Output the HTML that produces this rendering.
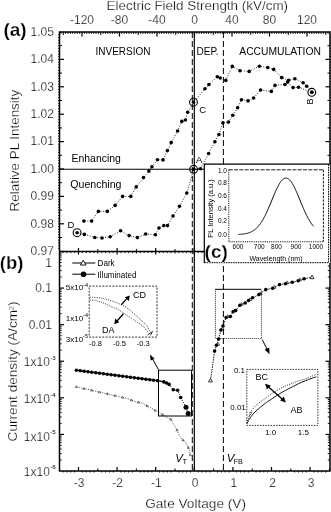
<!DOCTYPE html>
<html><head><meta charset="utf-8"><style>
html,body{margin:0;padding:0;background:#fff;width:331px;height:512px;overflow:hidden}
svg{display:block}
text[font-size="12"],text[font-size="12.5"],text[font-size="13"],text[font-size="13.4"],text[font-size="13.6"],text[font-size="19"],text[font-size="18.5"]{stroke:#fff;stroke-width:0.25px}
</style></head><body>
<svg width="331" height="512" viewBox="0 0 331 512" font-family="'Liberation Sans', Arial, Helvetica, sans-serif">
<rect width="331" height="512" fill="#fff"/>
<g><line x1="60.91" y1="32.00" x2="60.91" y2="33.90" stroke="#000" stroke-width="0.9" />
<line x1="63.25" y1="32.00" x2="63.25" y2="35.00" stroke="#000" stroke-width="1.0" />
<line x1="65.59" y1="32.00" x2="65.59" y2="33.90" stroke="#000" stroke-width="0.9" />
<line x1="67.94" y1="32.00" x2="67.94" y2="33.90" stroke="#000" stroke-width="0.9" />
<line x1="70.28" y1="32.00" x2="70.28" y2="33.90" stroke="#000" stroke-width="0.9" />
<line x1="72.62" y1="32.00" x2="72.62" y2="33.90" stroke="#000" stroke-width="0.9" />
<line x1="74.97" y1="32.00" x2="74.97" y2="33.90" stroke="#000" stroke-width="0.9" />
<line x1="77.31" y1="32.00" x2="77.31" y2="33.90" stroke="#000" stroke-width="0.9" />
<line x1="79.66" y1="32.00" x2="79.66" y2="33.90" stroke="#000" stroke-width="0.9" />
<line x1="82.00" y1="32.00" x2="82.00" y2="36.50" stroke="#000" stroke-width="1.2" />
<line x1="84.34" y1="32.00" x2="84.34" y2="33.90" stroke="#000" stroke-width="0.9" />
<line x1="86.69" y1="32.00" x2="86.69" y2="33.90" stroke="#000" stroke-width="0.9" />
<line x1="89.03" y1="32.00" x2="89.03" y2="33.90" stroke="#000" stroke-width="0.9" />
<line x1="91.38" y1="32.00" x2="91.38" y2="33.90" stroke="#000" stroke-width="0.9" />
<line x1="93.72" y1="32.00" x2="93.72" y2="33.90" stroke="#000" stroke-width="0.9" />
<line x1="96.06" y1="32.00" x2="96.06" y2="33.90" stroke="#000" stroke-width="0.9" />
<line x1="98.41" y1="32.00" x2="98.41" y2="33.90" stroke="#000" stroke-width="0.9" />
<line x1="100.75" y1="32.00" x2="100.75" y2="35.00" stroke="#000" stroke-width="1.0" />
<line x1="103.09" y1="32.00" x2="103.09" y2="33.90" stroke="#000" stroke-width="0.9" />
<line x1="105.44" y1="32.00" x2="105.44" y2="33.90" stroke="#000" stroke-width="0.9" />
<line x1="107.78" y1="32.00" x2="107.78" y2="33.90" stroke="#000" stroke-width="0.9" />
<line x1="110.12" y1="32.00" x2="110.12" y2="33.90" stroke="#000" stroke-width="0.9" />
<line x1="112.47" y1="32.00" x2="112.47" y2="33.90" stroke="#000" stroke-width="0.9" />
<line x1="114.81" y1="32.00" x2="114.81" y2="33.90" stroke="#000" stroke-width="0.9" />
<line x1="117.16" y1="32.00" x2="117.16" y2="33.90" stroke="#000" stroke-width="0.9" />
<line x1="119.50" y1="32.00" x2="119.50" y2="36.50" stroke="#000" stroke-width="1.2" />
<line x1="121.84" y1="32.00" x2="121.84" y2="33.90" stroke="#000" stroke-width="0.9" />
<line x1="124.19" y1="32.00" x2="124.19" y2="33.90" stroke="#000" stroke-width="0.9" />
<line x1="126.53" y1="32.00" x2="126.53" y2="33.90" stroke="#000" stroke-width="0.9" />
<line x1="128.88" y1="32.00" x2="128.88" y2="33.90" stroke="#000" stroke-width="0.9" />
<line x1="131.22" y1="32.00" x2="131.22" y2="33.90" stroke="#000" stroke-width="0.9" />
<line x1="133.56" y1="32.00" x2="133.56" y2="33.90" stroke="#000" stroke-width="0.9" />
<line x1="135.91" y1="32.00" x2="135.91" y2="33.90" stroke="#000" stroke-width="0.9" />
<line x1="138.25" y1="32.00" x2="138.25" y2="35.00" stroke="#000" stroke-width="1.0" />
<line x1="140.59" y1="32.00" x2="140.59" y2="33.90" stroke="#000" stroke-width="0.9" />
<line x1="142.94" y1="32.00" x2="142.94" y2="33.90" stroke="#000" stroke-width="0.9" />
<line x1="145.28" y1="32.00" x2="145.28" y2="33.90" stroke="#000" stroke-width="0.9" />
<line x1="147.62" y1="32.00" x2="147.62" y2="33.90" stroke="#000" stroke-width="0.9" />
<line x1="149.97" y1="32.00" x2="149.97" y2="33.90" stroke="#000" stroke-width="0.9" />
<line x1="152.31" y1="32.00" x2="152.31" y2="33.90" stroke="#000" stroke-width="0.9" />
<line x1="154.66" y1="32.00" x2="154.66" y2="33.90" stroke="#000" stroke-width="0.9" />
<line x1="157.00" y1="32.00" x2="157.00" y2="36.50" stroke="#000" stroke-width="1.2" />
<line x1="159.34" y1="32.00" x2="159.34" y2="33.90" stroke="#000" stroke-width="0.9" />
<line x1="161.69" y1="32.00" x2="161.69" y2="33.90" stroke="#000" stroke-width="0.9" />
<line x1="164.03" y1="32.00" x2="164.03" y2="33.90" stroke="#000" stroke-width="0.9" />
<line x1="166.38" y1="32.00" x2="166.38" y2="33.90" stroke="#000" stroke-width="0.9" />
<line x1="168.72" y1="32.00" x2="168.72" y2="33.90" stroke="#000" stroke-width="0.9" />
<line x1="171.06" y1="32.00" x2="171.06" y2="33.90" stroke="#000" stroke-width="0.9" />
<line x1="173.41" y1="32.00" x2="173.41" y2="33.90" stroke="#000" stroke-width="0.9" />
<line x1="175.75" y1="32.00" x2="175.75" y2="35.00" stroke="#000" stroke-width="1.0" />
<line x1="178.09" y1="32.00" x2="178.09" y2="33.90" stroke="#000" stroke-width="0.9" />
<line x1="180.44" y1="32.00" x2="180.44" y2="33.90" stroke="#000" stroke-width="0.9" />
<line x1="182.78" y1="32.00" x2="182.78" y2="33.90" stroke="#000" stroke-width="0.9" />
<line x1="185.12" y1="32.00" x2="185.12" y2="33.90" stroke="#000" stroke-width="0.9" />
<line x1="187.47" y1="32.00" x2="187.47" y2="33.90" stroke="#000" stroke-width="0.9" />
<line x1="189.81" y1="32.00" x2="189.81" y2="33.90" stroke="#000" stroke-width="0.9" />
<line x1="192.16" y1="32.00" x2="192.16" y2="33.90" stroke="#000" stroke-width="0.9" />
<line x1="194.50" y1="32.00" x2="194.50" y2="36.50" stroke="#000" stroke-width="1.2" />
<line x1="196.84" y1="32.00" x2="196.84" y2="33.90" stroke="#000" stroke-width="0.9" />
<line x1="199.19" y1="32.00" x2="199.19" y2="33.90" stroke="#000" stroke-width="0.9" />
<line x1="201.53" y1="32.00" x2="201.53" y2="33.90" stroke="#000" stroke-width="0.9" />
<line x1="203.88" y1="32.00" x2="203.88" y2="33.90" stroke="#000" stroke-width="0.9" />
<line x1="206.22" y1="32.00" x2="206.22" y2="33.90" stroke="#000" stroke-width="0.9" />
<line x1="208.56" y1="32.00" x2="208.56" y2="33.90" stroke="#000" stroke-width="0.9" />
<line x1="210.91" y1="32.00" x2="210.91" y2="33.90" stroke="#000" stroke-width="0.9" />
<line x1="213.25" y1="32.00" x2="213.25" y2="35.00" stroke="#000" stroke-width="1.0" />
<line x1="215.59" y1="32.00" x2="215.59" y2="33.90" stroke="#000" stroke-width="0.9" />
<line x1="217.94" y1="32.00" x2="217.94" y2="33.90" stroke="#000" stroke-width="0.9" />
<line x1="220.28" y1="32.00" x2="220.28" y2="33.90" stroke="#000" stroke-width="0.9" />
<line x1="222.62" y1="32.00" x2="222.62" y2="33.90" stroke="#000" stroke-width="0.9" />
<line x1="224.97" y1="32.00" x2="224.97" y2="33.90" stroke="#000" stroke-width="0.9" />
<line x1="227.31" y1="32.00" x2="227.31" y2="33.90" stroke="#000" stroke-width="0.9" />
<line x1="229.66" y1="32.00" x2="229.66" y2="33.90" stroke="#000" stroke-width="0.9" />
<line x1="232.00" y1="32.00" x2="232.00" y2="36.50" stroke="#000" stroke-width="1.2" />
<line x1="234.34" y1="32.00" x2="234.34" y2="33.90" stroke="#000" stroke-width="0.9" />
<line x1="236.69" y1="32.00" x2="236.69" y2="33.90" stroke="#000" stroke-width="0.9" />
<line x1="239.03" y1="32.00" x2="239.03" y2="33.90" stroke="#000" stroke-width="0.9" />
<line x1="241.38" y1="32.00" x2="241.38" y2="33.90" stroke="#000" stroke-width="0.9" />
<line x1="243.72" y1="32.00" x2="243.72" y2="33.90" stroke="#000" stroke-width="0.9" />
<line x1="246.06" y1="32.00" x2="246.06" y2="33.90" stroke="#000" stroke-width="0.9" />
<line x1="248.41" y1="32.00" x2="248.41" y2="33.90" stroke="#000" stroke-width="0.9" />
<line x1="250.75" y1="32.00" x2="250.75" y2="35.00" stroke="#000" stroke-width="1.0" />
<line x1="253.09" y1="32.00" x2="253.09" y2="33.90" stroke="#000" stroke-width="0.9" />
<line x1="255.44" y1="32.00" x2="255.44" y2="33.90" stroke="#000" stroke-width="0.9" />
<line x1="257.78" y1="32.00" x2="257.78" y2="33.90" stroke="#000" stroke-width="0.9" />
<line x1="260.12" y1="32.00" x2="260.12" y2="33.90" stroke="#000" stroke-width="0.9" />
<line x1="262.47" y1="32.00" x2="262.47" y2="33.90" stroke="#000" stroke-width="0.9" />
<line x1="264.81" y1="32.00" x2="264.81" y2="33.90" stroke="#000" stroke-width="0.9" />
<line x1="267.16" y1="32.00" x2="267.16" y2="33.90" stroke="#000" stroke-width="0.9" />
<line x1="269.50" y1="32.00" x2="269.50" y2="36.50" stroke="#000" stroke-width="1.2" />
<line x1="271.84" y1="32.00" x2="271.84" y2="33.90" stroke="#000" stroke-width="0.9" />
<line x1="274.19" y1="32.00" x2="274.19" y2="33.90" stroke="#000" stroke-width="0.9" />
<line x1="276.53" y1="32.00" x2="276.53" y2="33.90" stroke="#000" stroke-width="0.9" />
<line x1="278.88" y1="32.00" x2="278.88" y2="33.90" stroke="#000" stroke-width="0.9" />
<line x1="281.22" y1="32.00" x2="281.22" y2="33.90" stroke="#000" stroke-width="0.9" />
<line x1="283.56" y1="32.00" x2="283.56" y2="33.90" stroke="#000" stroke-width="0.9" />
<line x1="285.91" y1="32.00" x2="285.91" y2="33.90" stroke="#000" stroke-width="0.9" />
<line x1="288.25" y1="32.00" x2="288.25" y2="35.00" stroke="#000" stroke-width="1.0" />
<line x1="290.59" y1="32.00" x2="290.59" y2="33.90" stroke="#000" stroke-width="0.9" />
<line x1="292.94" y1="32.00" x2="292.94" y2="33.90" stroke="#000" stroke-width="0.9" />
<line x1="295.28" y1="32.00" x2="295.28" y2="33.90" stroke="#000" stroke-width="0.9" />
<line x1="297.62" y1="32.00" x2="297.62" y2="33.90" stroke="#000" stroke-width="0.9" />
<line x1="299.97" y1="32.00" x2="299.97" y2="33.90" stroke="#000" stroke-width="0.9" />
<line x1="302.31" y1="32.00" x2="302.31" y2="33.90" stroke="#000" stroke-width="0.9" />
<line x1="304.66" y1="32.00" x2="304.66" y2="33.90" stroke="#000" stroke-width="0.9" />
<line x1="307.00" y1="32.00" x2="307.00" y2="36.50" stroke="#000" stroke-width="1.2" />
<line x1="309.34" y1="32.00" x2="309.34" y2="33.90" stroke="#000" stroke-width="0.9" />
<line x1="311.69" y1="32.00" x2="311.69" y2="33.90" stroke="#000" stroke-width="0.9" />
<line x1="314.03" y1="32.00" x2="314.03" y2="33.90" stroke="#000" stroke-width="0.9" />
<line x1="316.38" y1="32.00" x2="316.38" y2="33.90" stroke="#000" stroke-width="0.9" />
<line x1="318.72" y1="32.00" x2="318.72" y2="33.90" stroke="#000" stroke-width="0.9" />
<line x1="321.06" y1="32.00" x2="321.06" y2="33.90" stroke="#000" stroke-width="0.9" />
<line x1="323.41" y1="32.00" x2="323.41" y2="33.90" stroke="#000" stroke-width="0.9" />
<line x1="325.75" y1="32.00" x2="325.75" y2="35.00" stroke="#000" stroke-width="1.0" />
<line x1="328.09" y1="32.00" x2="328.09" y2="33.90" stroke="#000" stroke-width="0.9" />
<line x1="58.10" y1="248.46" x2="59.50" y2="248.46" stroke="#000" stroke-width="0.9" />
<line x1="330.00" y1="248.46" x2="331.40" y2="248.46" stroke="#000" stroke-width="0.9" />
<line x1="58.10" y1="245.72" x2="59.50" y2="245.72" stroke="#000" stroke-width="0.9" />
<line x1="330.00" y1="245.72" x2="331.40" y2="245.72" stroke="#000" stroke-width="0.9" />
<line x1="58.10" y1="242.98" x2="59.50" y2="242.98" stroke="#000" stroke-width="0.9" />
<line x1="330.00" y1="242.98" x2="331.40" y2="242.98" stroke="#000" stroke-width="0.9" />
<line x1="58.10" y1="240.24" x2="59.50" y2="240.24" stroke="#000" stroke-width="0.9" />
<line x1="330.00" y1="240.24" x2="331.40" y2="240.24" stroke="#000" stroke-width="0.9" />
<line x1="58.10" y1="237.50" x2="59.50" y2="237.50" stroke="#000" stroke-width="0.9" />
<line x1="330.00" y1="237.50" x2="331.40" y2="237.50" stroke="#000" stroke-width="0.9" />
<line x1="59.50" y1="237.50" x2="62.00" y2="237.50" stroke="#000" stroke-width="1.0" />
<line x1="330.00" y1="237.50" x2="327.50" y2="237.50" stroke="#000" stroke-width="1.0" />
<line x1="58.10" y1="234.76" x2="59.50" y2="234.76" stroke="#000" stroke-width="0.9" />
<line x1="330.00" y1="234.76" x2="331.40" y2="234.76" stroke="#000" stroke-width="0.9" />
<line x1="58.10" y1="232.02" x2="59.50" y2="232.02" stroke="#000" stroke-width="0.9" />
<line x1="330.00" y1="232.02" x2="331.40" y2="232.02" stroke="#000" stroke-width="0.9" />
<line x1="58.10" y1="229.28" x2="59.50" y2="229.28" stroke="#000" stroke-width="0.9" />
<line x1="330.00" y1="229.28" x2="331.40" y2="229.28" stroke="#000" stroke-width="0.9" />
<line x1="58.10" y1="226.54" x2="59.50" y2="226.54" stroke="#000" stroke-width="0.9" />
<line x1="330.00" y1="226.54" x2="331.40" y2="226.54" stroke="#000" stroke-width="0.9" />
<line x1="58.10" y1="223.80" x2="59.50" y2="223.80" stroke="#000" stroke-width="0.9" />
<line x1="330.00" y1="223.80" x2="331.40" y2="223.80" stroke="#000" stroke-width="0.9" />
<line x1="59.50" y1="223.80" x2="64.00" y2="223.80" stroke="#000" stroke-width="1.2" />
<line x1="330.00" y1="223.80" x2="325.50" y2="223.80" stroke="#000" stroke-width="1.2" />
<line x1="58.10" y1="221.06" x2="59.50" y2="221.06" stroke="#000" stroke-width="0.9" />
<line x1="330.00" y1="221.06" x2="331.40" y2="221.06" stroke="#000" stroke-width="0.9" />
<line x1="58.10" y1="218.32" x2="59.50" y2="218.32" stroke="#000" stroke-width="0.9" />
<line x1="330.00" y1="218.32" x2="331.40" y2="218.32" stroke="#000" stroke-width="0.9" />
<line x1="58.10" y1="215.58" x2="59.50" y2="215.58" stroke="#000" stroke-width="0.9" />
<line x1="330.00" y1="215.58" x2="331.40" y2="215.58" stroke="#000" stroke-width="0.9" />
<line x1="58.10" y1="212.84" x2="59.50" y2="212.84" stroke="#000" stroke-width="0.9" />
<line x1="330.00" y1="212.84" x2="331.40" y2="212.84" stroke="#000" stroke-width="0.9" />
<line x1="58.10" y1="210.10" x2="59.50" y2="210.10" stroke="#000" stroke-width="0.9" />
<line x1="330.00" y1="210.10" x2="331.40" y2="210.10" stroke="#000" stroke-width="0.9" />
<line x1="59.50" y1="210.10" x2="62.00" y2="210.10" stroke="#000" stroke-width="1.0" />
<line x1="330.00" y1="210.10" x2="327.50" y2="210.10" stroke="#000" stroke-width="1.0" />
<line x1="58.10" y1="207.36" x2="59.50" y2="207.36" stroke="#000" stroke-width="0.9" />
<line x1="330.00" y1="207.36" x2="331.40" y2="207.36" stroke="#000" stroke-width="0.9" />
<line x1="58.10" y1="204.62" x2="59.50" y2="204.62" stroke="#000" stroke-width="0.9" />
<line x1="330.00" y1="204.62" x2="331.40" y2="204.62" stroke="#000" stroke-width="0.9" />
<line x1="58.10" y1="201.88" x2="59.50" y2="201.88" stroke="#000" stroke-width="0.9" />
<line x1="330.00" y1="201.88" x2="331.40" y2="201.88" stroke="#000" stroke-width="0.9" />
<line x1="58.10" y1="199.14" x2="59.50" y2="199.14" stroke="#000" stroke-width="0.9" />
<line x1="330.00" y1="199.14" x2="331.40" y2="199.14" stroke="#000" stroke-width="0.9" />
<line x1="58.10" y1="196.40" x2="59.50" y2="196.40" stroke="#000" stroke-width="0.9" />
<line x1="330.00" y1="196.40" x2="331.40" y2="196.40" stroke="#000" stroke-width="0.9" />
<line x1="59.50" y1="196.40" x2="64.00" y2="196.40" stroke="#000" stroke-width="1.2" />
<line x1="330.00" y1="196.40" x2="325.50" y2="196.40" stroke="#000" stroke-width="1.2" />
<line x1="58.10" y1="193.66" x2="59.50" y2="193.66" stroke="#000" stroke-width="0.9" />
<line x1="330.00" y1="193.66" x2="331.40" y2="193.66" stroke="#000" stroke-width="0.9" />
<line x1="58.10" y1="190.92" x2="59.50" y2="190.92" stroke="#000" stroke-width="0.9" />
<line x1="330.00" y1="190.92" x2="331.40" y2="190.92" stroke="#000" stroke-width="0.9" />
<line x1="58.10" y1="188.18" x2="59.50" y2="188.18" stroke="#000" stroke-width="0.9" />
<line x1="330.00" y1="188.18" x2="331.40" y2="188.18" stroke="#000" stroke-width="0.9" />
<line x1="58.10" y1="185.44" x2="59.50" y2="185.44" stroke="#000" stroke-width="0.9" />
<line x1="330.00" y1="185.44" x2="331.40" y2="185.44" stroke="#000" stroke-width="0.9" />
<line x1="58.10" y1="182.70" x2="59.50" y2="182.70" stroke="#000" stroke-width="0.9" />
<line x1="330.00" y1="182.70" x2="331.40" y2="182.70" stroke="#000" stroke-width="0.9" />
<line x1="59.50" y1="182.70" x2="62.00" y2="182.70" stroke="#000" stroke-width="1.0" />
<line x1="330.00" y1="182.70" x2="327.50" y2="182.70" stroke="#000" stroke-width="1.0" />
<line x1="58.10" y1="179.96" x2="59.50" y2="179.96" stroke="#000" stroke-width="0.9" />
<line x1="330.00" y1="179.96" x2="331.40" y2="179.96" stroke="#000" stroke-width="0.9" />
<line x1="58.10" y1="177.22" x2="59.50" y2="177.22" stroke="#000" stroke-width="0.9" />
<line x1="330.00" y1="177.22" x2="331.40" y2="177.22" stroke="#000" stroke-width="0.9" />
<line x1="58.10" y1="174.48" x2="59.50" y2="174.48" stroke="#000" stroke-width="0.9" />
<line x1="330.00" y1="174.48" x2="331.40" y2="174.48" stroke="#000" stroke-width="0.9" />
<line x1="58.10" y1="171.74" x2="59.50" y2="171.74" stroke="#000" stroke-width="0.9" />
<line x1="330.00" y1="171.74" x2="331.40" y2="171.74" stroke="#000" stroke-width="0.9" />
<line x1="58.10" y1="169.00" x2="59.50" y2="169.00" stroke="#000" stroke-width="0.9" />
<line x1="330.00" y1="169.00" x2="331.40" y2="169.00" stroke="#000" stroke-width="0.9" />
<line x1="59.50" y1="169.00" x2="64.00" y2="169.00" stroke="#000" stroke-width="1.2" />
<line x1="330.00" y1="169.00" x2="325.50" y2="169.00" stroke="#000" stroke-width="1.2" />
<line x1="58.10" y1="166.26" x2="59.50" y2="166.26" stroke="#000" stroke-width="0.9" />
<line x1="330.00" y1="166.26" x2="331.40" y2="166.26" stroke="#000" stroke-width="0.9" />
<line x1="58.10" y1="163.52" x2="59.50" y2="163.52" stroke="#000" stroke-width="0.9" />
<line x1="330.00" y1="163.52" x2="331.40" y2="163.52" stroke="#000" stroke-width="0.9" />
<line x1="58.10" y1="160.78" x2="59.50" y2="160.78" stroke="#000" stroke-width="0.9" />
<line x1="330.00" y1="160.78" x2="331.40" y2="160.78" stroke="#000" stroke-width="0.9" />
<line x1="58.10" y1="158.04" x2="59.50" y2="158.04" stroke="#000" stroke-width="0.9" />
<line x1="330.00" y1="158.04" x2="331.40" y2="158.04" stroke="#000" stroke-width="0.9" />
<line x1="58.10" y1="155.30" x2="59.50" y2="155.30" stroke="#000" stroke-width="0.9" />
<line x1="330.00" y1="155.30" x2="331.40" y2="155.30" stroke="#000" stroke-width="0.9" />
<line x1="59.50" y1="155.30" x2="62.00" y2="155.30" stroke="#000" stroke-width="1.0" />
<line x1="330.00" y1="155.30" x2="327.50" y2="155.30" stroke="#000" stroke-width="1.0" />
<line x1="58.10" y1="152.56" x2="59.50" y2="152.56" stroke="#000" stroke-width="0.9" />
<line x1="330.00" y1="152.56" x2="331.40" y2="152.56" stroke="#000" stroke-width="0.9" />
<line x1="58.10" y1="149.82" x2="59.50" y2="149.82" stroke="#000" stroke-width="0.9" />
<line x1="330.00" y1="149.82" x2="331.40" y2="149.82" stroke="#000" stroke-width="0.9" />
<line x1="58.10" y1="147.08" x2="59.50" y2="147.08" stroke="#000" stroke-width="0.9" />
<line x1="330.00" y1="147.08" x2="331.40" y2="147.08" stroke="#000" stroke-width="0.9" />
<line x1="58.10" y1="144.34" x2="59.50" y2="144.34" stroke="#000" stroke-width="0.9" />
<line x1="330.00" y1="144.34" x2="331.40" y2="144.34" stroke="#000" stroke-width="0.9" />
<line x1="58.10" y1="141.60" x2="59.50" y2="141.60" stroke="#000" stroke-width="0.9" />
<line x1="330.00" y1="141.60" x2="331.40" y2="141.60" stroke="#000" stroke-width="0.9" />
<line x1="59.50" y1="141.60" x2="64.00" y2="141.60" stroke="#000" stroke-width="1.2" />
<line x1="330.00" y1="141.60" x2="325.50" y2="141.60" stroke="#000" stroke-width="1.2" />
<line x1="58.10" y1="138.86" x2="59.50" y2="138.86" stroke="#000" stroke-width="0.9" />
<line x1="330.00" y1="138.86" x2="331.40" y2="138.86" stroke="#000" stroke-width="0.9" />
<line x1="58.10" y1="136.12" x2="59.50" y2="136.12" stroke="#000" stroke-width="0.9" />
<line x1="330.00" y1="136.12" x2="331.40" y2="136.12" stroke="#000" stroke-width="0.9" />
<line x1="58.10" y1="133.38" x2="59.50" y2="133.38" stroke="#000" stroke-width="0.9" />
<line x1="330.00" y1="133.38" x2="331.40" y2="133.38" stroke="#000" stroke-width="0.9" />
<line x1="58.10" y1="130.64" x2="59.50" y2="130.64" stroke="#000" stroke-width="0.9" />
<line x1="330.00" y1="130.64" x2="331.40" y2="130.64" stroke="#000" stroke-width="0.9" />
<line x1="58.10" y1="127.90" x2="59.50" y2="127.90" stroke="#000" stroke-width="0.9" />
<line x1="330.00" y1="127.90" x2="331.40" y2="127.90" stroke="#000" stroke-width="0.9" />
<line x1="59.50" y1="127.90" x2="62.00" y2="127.90" stroke="#000" stroke-width="1.0" />
<line x1="330.00" y1="127.90" x2="327.50" y2="127.90" stroke="#000" stroke-width="1.0" />
<line x1="58.10" y1="125.16" x2="59.50" y2="125.16" stroke="#000" stroke-width="0.9" />
<line x1="330.00" y1="125.16" x2="331.40" y2="125.16" stroke="#000" stroke-width="0.9" />
<line x1="58.10" y1="122.42" x2="59.50" y2="122.42" stroke="#000" stroke-width="0.9" />
<line x1="330.00" y1="122.42" x2="331.40" y2="122.42" stroke="#000" stroke-width="0.9" />
<line x1="58.10" y1="119.68" x2="59.50" y2="119.68" stroke="#000" stroke-width="0.9" />
<line x1="330.00" y1="119.68" x2="331.40" y2="119.68" stroke="#000" stroke-width="0.9" />
<line x1="58.10" y1="116.94" x2="59.50" y2="116.94" stroke="#000" stroke-width="0.9" />
<line x1="330.00" y1="116.94" x2="331.40" y2="116.94" stroke="#000" stroke-width="0.9" />
<line x1="58.10" y1="114.20" x2="59.50" y2="114.20" stroke="#000" stroke-width="0.9" />
<line x1="330.00" y1="114.20" x2="331.40" y2="114.20" stroke="#000" stroke-width="0.9" />
<line x1="59.50" y1="114.20" x2="64.00" y2="114.20" stroke="#000" stroke-width="1.2" />
<line x1="330.00" y1="114.20" x2="325.50" y2="114.20" stroke="#000" stroke-width="1.2" />
<line x1="58.10" y1="111.46" x2="59.50" y2="111.46" stroke="#000" stroke-width="0.9" />
<line x1="330.00" y1="111.46" x2="331.40" y2="111.46" stroke="#000" stroke-width="0.9" />
<line x1="58.10" y1="108.72" x2="59.50" y2="108.72" stroke="#000" stroke-width="0.9" />
<line x1="330.00" y1="108.72" x2="331.40" y2="108.72" stroke="#000" stroke-width="0.9" />
<line x1="58.10" y1="105.98" x2="59.50" y2="105.98" stroke="#000" stroke-width="0.9" />
<line x1="330.00" y1="105.98" x2="331.40" y2="105.98" stroke="#000" stroke-width="0.9" />
<line x1="58.10" y1="103.24" x2="59.50" y2="103.24" stroke="#000" stroke-width="0.9" />
<line x1="330.00" y1="103.24" x2="331.40" y2="103.24" stroke="#000" stroke-width="0.9" />
<line x1="58.10" y1="100.50" x2="59.50" y2="100.50" stroke="#000" stroke-width="0.9" />
<line x1="330.00" y1="100.50" x2="331.40" y2="100.50" stroke="#000" stroke-width="0.9" />
<line x1="59.50" y1="100.50" x2="62.00" y2="100.50" stroke="#000" stroke-width="1.0" />
<line x1="330.00" y1="100.50" x2="327.50" y2="100.50" stroke="#000" stroke-width="1.0" />
<line x1="58.10" y1="97.76" x2="59.50" y2="97.76" stroke="#000" stroke-width="0.9" />
<line x1="330.00" y1="97.76" x2="331.40" y2="97.76" stroke="#000" stroke-width="0.9" />
<line x1="58.10" y1="95.02" x2="59.50" y2="95.02" stroke="#000" stroke-width="0.9" />
<line x1="330.00" y1="95.02" x2="331.40" y2="95.02" stroke="#000" stroke-width="0.9" />
<line x1="58.10" y1="92.28" x2="59.50" y2="92.28" stroke="#000" stroke-width="0.9" />
<line x1="330.00" y1="92.28" x2="331.40" y2="92.28" stroke="#000" stroke-width="0.9" />
<line x1="58.10" y1="89.54" x2="59.50" y2="89.54" stroke="#000" stroke-width="0.9" />
<line x1="330.00" y1="89.54" x2="331.40" y2="89.54" stroke="#000" stroke-width="0.9" />
<line x1="58.10" y1="86.80" x2="59.50" y2="86.80" stroke="#000" stroke-width="0.9" />
<line x1="330.00" y1="86.80" x2="331.40" y2="86.80" stroke="#000" stroke-width="0.9" />
<line x1="59.50" y1="86.80" x2="64.00" y2="86.80" stroke="#000" stroke-width="1.2" />
<line x1="330.00" y1="86.80" x2="325.50" y2="86.80" stroke="#000" stroke-width="1.2" />
<line x1="58.10" y1="84.06" x2="59.50" y2="84.06" stroke="#000" stroke-width="0.9" />
<line x1="330.00" y1="84.06" x2="331.40" y2="84.06" stroke="#000" stroke-width="0.9" />
<line x1="58.10" y1="81.32" x2="59.50" y2="81.32" stroke="#000" stroke-width="0.9" />
<line x1="330.00" y1="81.32" x2="331.40" y2="81.32" stroke="#000" stroke-width="0.9" />
<line x1="58.10" y1="78.58" x2="59.50" y2="78.58" stroke="#000" stroke-width="0.9" />
<line x1="330.00" y1="78.58" x2="331.40" y2="78.58" stroke="#000" stroke-width="0.9" />
<line x1="58.10" y1="75.84" x2="59.50" y2="75.84" stroke="#000" stroke-width="0.9" />
<line x1="330.00" y1="75.84" x2="331.40" y2="75.84" stroke="#000" stroke-width="0.9" />
<line x1="58.10" y1="73.10" x2="59.50" y2="73.10" stroke="#000" stroke-width="0.9" />
<line x1="330.00" y1="73.10" x2="331.40" y2="73.10" stroke="#000" stroke-width="0.9" />
<line x1="59.50" y1="73.10" x2="62.00" y2="73.10" stroke="#000" stroke-width="1.0" />
<line x1="330.00" y1="73.10" x2="327.50" y2="73.10" stroke="#000" stroke-width="1.0" />
<line x1="58.10" y1="70.36" x2="59.50" y2="70.36" stroke="#000" stroke-width="0.9" />
<line x1="330.00" y1="70.36" x2="331.40" y2="70.36" stroke="#000" stroke-width="0.9" />
<line x1="58.10" y1="67.62" x2="59.50" y2="67.62" stroke="#000" stroke-width="0.9" />
<line x1="330.00" y1="67.62" x2="331.40" y2="67.62" stroke="#000" stroke-width="0.9" />
<line x1="58.10" y1="64.88" x2="59.50" y2="64.88" stroke="#000" stroke-width="0.9" />
<line x1="330.00" y1="64.88" x2="331.40" y2="64.88" stroke="#000" stroke-width="0.9" />
<line x1="58.10" y1="62.14" x2="59.50" y2="62.14" stroke="#000" stroke-width="0.9" />
<line x1="330.00" y1="62.14" x2="331.40" y2="62.14" stroke="#000" stroke-width="0.9" />
<line x1="58.10" y1="59.40" x2="59.50" y2="59.40" stroke="#000" stroke-width="0.9" />
<line x1="330.00" y1="59.40" x2="331.40" y2="59.40" stroke="#000" stroke-width="0.9" />
<line x1="59.50" y1="59.40" x2="64.00" y2="59.40" stroke="#000" stroke-width="1.2" />
<line x1="330.00" y1="59.40" x2="325.50" y2="59.40" stroke="#000" stroke-width="1.2" />
<line x1="58.10" y1="56.66" x2="59.50" y2="56.66" stroke="#000" stroke-width="0.9" />
<line x1="330.00" y1="56.66" x2="331.40" y2="56.66" stroke="#000" stroke-width="0.9" />
<line x1="58.10" y1="53.92" x2="59.50" y2="53.92" stroke="#000" stroke-width="0.9" />
<line x1="330.00" y1="53.92" x2="331.40" y2="53.92" stroke="#000" stroke-width="0.9" />
<line x1="58.10" y1="51.18" x2="59.50" y2="51.18" stroke="#000" stroke-width="0.9" />
<line x1="330.00" y1="51.18" x2="331.40" y2="51.18" stroke="#000" stroke-width="0.9" />
<line x1="58.10" y1="48.44" x2="59.50" y2="48.44" stroke="#000" stroke-width="0.9" />
<line x1="330.00" y1="48.44" x2="331.40" y2="48.44" stroke="#000" stroke-width="0.9" />
<line x1="58.10" y1="45.70" x2="59.50" y2="45.70" stroke="#000" stroke-width="0.9" />
<line x1="330.00" y1="45.70" x2="331.40" y2="45.70" stroke="#000" stroke-width="0.9" />
<line x1="59.50" y1="45.70" x2="62.00" y2="45.70" stroke="#000" stroke-width="1.0" />
<line x1="330.00" y1="45.70" x2="327.50" y2="45.70" stroke="#000" stroke-width="1.0" />
<line x1="58.10" y1="42.96" x2="59.50" y2="42.96" stroke="#000" stroke-width="0.9" />
<line x1="330.00" y1="42.96" x2="331.40" y2="42.96" stroke="#000" stroke-width="0.9" />
<line x1="58.10" y1="40.22" x2="59.50" y2="40.22" stroke="#000" stroke-width="0.9" />
<line x1="330.00" y1="40.22" x2="331.40" y2="40.22" stroke="#000" stroke-width="0.9" />
<line x1="58.10" y1="37.48" x2="59.50" y2="37.48" stroke="#000" stroke-width="0.9" />
<line x1="330.00" y1="37.48" x2="331.40" y2="37.48" stroke="#000" stroke-width="0.9" />
<line x1="58.10" y1="34.74" x2="59.50" y2="34.74" stroke="#000" stroke-width="0.9" />
<line x1="330.00" y1="34.74" x2="331.40" y2="34.74" stroke="#000" stroke-width="0.9" />
<line x1="63.06" y1="471.00" x2="63.06" y2="472.50" stroke="#000" stroke-width="0.9" />
<line x1="63.06" y1="251.50" x2="63.06" y2="253.10" stroke="#000" stroke-width="0.9" />
<line x1="66.92" y1="471.00" x2="66.92" y2="472.50" stroke="#000" stroke-width="0.9" />
<line x1="66.92" y1="251.50" x2="66.92" y2="253.10" stroke="#000" stroke-width="0.9" />
<line x1="70.78" y1="471.00" x2="70.78" y2="472.50" stroke="#000" stroke-width="0.9" />
<line x1="70.78" y1="251.50" x2="70.78" y2="253.10" stroke="#000" stroke-width="0.9" />
<line x1="74.64" y1="471.00" x2="74.64" y2="472.50" stroke="#000" stroke-width="0.9" />
<line x1="74.64" y1="251.50" x2="74.64" y2="253.10" stroke="#000" stroke-width="0.9" />
<line x1="78.50" y1="471.00" x2="78.50" y2="467.00" stroke="#000" stroke-width="1.2" />
<line x1="78.50" y1="248.00" x2="78.50" y2="254.50" stroke="#000" stroke-width="1.2" />
<line x1="82.36" y1="471.00" x2="82.36" y2="472.50" stroke="#000" stroke-width="0.9" />
<line x1="82.36" y1="251.50" x2="82.36" y2="253.10" stroke="#000" stroke-width="0.9" />
<line x1="86.22" y1="471.00" x2="86.22" y2="472.50" stroke="#000" stroke-width="0.9" />
<line x1="86.22" y1="251.50" x2="86.22" y2="253.10" stroke="#000" stroke-width="0.9" />
<line x1="90.08" y1="471.00" x2="90.08" y2="472.50" stroke="#000" stroke-width="0.9" />
<line x1="90.08" y1="251.50" x2="90.08" y2="253.10" stroke="#000" stroke-width="0.9" />
<line x1="93.94" y1="471.00" x2="93.94" y2="472.50" stroke="#000" stroke-width="0.9" />
<line x1="93.94" y1="251.50" x2="93.94" y2="253.10" stroke="#000" stroke-width="0.9" />
<line x1="97.80" y1="471.00" x2="97.80" y2="468.50" stroke="#000" stroke-width="1.0" />
<line x1="97.80" y1="249.00" x2="97.80" y2="253.50" stroke="#000" stroke-width="1.0" />
<line x1="101.66" y1="471.00" x2="101.66" y2="472.50" stroke="#000" stroke-width="0.9" />
<line x1="101.66" y1="251.50" x2="101.66" y2="253.10" stroke="#000" stroke-width="0.9" />
<line x1="105.52" y1="471.00" x2="105.52" y2="472.50" stroke="#000" stroke-width="0.9" />
<line x1="105.52" y1="251.50" x2="105.52" y2="253.10" stroke="#000" stroke-width="0.9" />
<line x1="109.38" y1="471.00" x2="109.38" y2="472.50" stroke="#000" stroke-width="0.9" />
<line x1="109.38" y1="251.50" x2="109.38" y2="253.10" stroke="#000" stroke-width="0.9" />
<line x1="113.24" y1="471.00" x2="113.24" y2="472.50" stroke="#000" stroke-width="0.9" />
<line x1="113.24" y1="251.50" x2="113.24" y2="253.10" stroke="#000" stroke-width="0.9" />
<line x1="117.10" y1="471.00" x2="117.10" y2="467.00" stroke="#000" stroke-width="1.2" />
<line x1="117.10" y1="248.00" x2="117.10" y2="254.50" stroke="#000" stroke-width="1.2" />
<line x1="120.96" y1="471.00" x2="120.96" y2="472.50" stroke="#000" stroke-width="0.9" />
<line x1="120.96" y1="251.50" x2="120.96" y2="253.10" stroke="#000" stroke-width="0.9" />
<line x1="124.82" y1="471.00" x2="124.82" y2="472.50" stroke="#000" stroke-width="0.9" />
<line x1="124.82" y1="251.50" x2="124.82" y2="253.10" stroke="#000" stroke-width="0.9" />
<line x1="128.68" y1="471.00" x2="128.68" y2="472.50" stroke="#000" stroke-width="0.9" />
<line x1="128.68" y1="251.50" x2="128.68" y2="253.10" stroke="#000" stroke-width="0.9" />
<line x1="132.54" y1="471.00" x2="132.54" y2="472.50" stroke="#000" stroke-width="0.9" />
<line x1="132.54" y1="251.50" x2="132.54" y2="253.10" stroke="#000" stroke-width="0.9" />
<line x1="136.40" y1="471.00" x2="136.40" y2="468.50" stroke="#000" stroke-width="1.0" />
<line x1="136.40" y1="249.00" x2="136.40" y2="253.50" stroke="#000" stroke-width="1.0" />
<line x1="140.26" y1="471.00" x2="140.26" y2="472.50" stroke="#000" stroke-width="0.9" />
<line x1="140.26" y1="251.50" x2="140.26" y2="253.10" stroke="#000" stroke-width="0.9" />
<line x1="144.12" y1="471.00" x2="144.12" y2="472.50" stroke="#000" stroke-width="0.9" />
<line x1="144.12" y1="251.50" x2="144.12" y2="253.10" stroke="#000" stroke-width="0.9" />
<line x1="147.98" y1="471.00" x2="147.98" y2="472.50" stroke="#000" stroke-width="0.9" />
<line x1="147.98" y1="251.50" x2="147.98" y2="253.10" stroke="#000" stroke-width="0.9" />
<line x1="151.84" y1="471.00" x2="151.84" y2="472.50" stroke="#000" stroke-width="0.9" />
<line x1="151.84" y1="251.50" x2="151.84" y2="253.10" stroke="#000" stroke-width="0.9" />
<line x1="155.70" y1="471.00" x2="155.70" y2="467.00" stroke="#000" stroke-width="1.2" />
<line x1="155.70" y1="248.00" x2="155.70" y2="254.50" stroke="#000" stroke-width="1.2" />
<line x1="159.56" y1="471.00" x2="159.56" y2="472.50" stroke="#000" stroke-width="0.9" />
<line x1="159.56" y1="251.50" x2="159.56" y2="253.10" stroke="#000" stroke-width="0.9" />
<line x1="163.42" y1="471.00" x2="163.42" y2="472.50" stroke="#000" stroke-width="0.9" />
<line x1="163.42" y1="251.50" x2="163.42" y2="253.10" stroke="#000" stroke-width="0.9" />
<line x1="167.28" y1="471.00" x2="167.28" y2="472.50" stroke="#000" stroke-width="0.9" />
<line x1="167.28" y1="251.50" x2="167.28" y2="253.10" stroke="#000" stroke-width="0.9" />
<line x1="171.14" y1="471.00" x2="171.14" y2="472.50" stroke="#000" stroke-width="0.9" />
<line x1="171.14" y1="251.50" x2="171.14" y2="253.10" stroke="#000" stroke-width="0.9" />
<line x1="175.00" y1="471.00" x2="175.00" y2="468.50" stroke="#000" stroke-width="1.0" />
<line x1="175.00" y1="249.00" x2="175.00" y2="253.50" stroke="#000" stroke-width="1.0" />
<line x1="178.86" y1="471.00" x2="178.86" y2="472.50" stroke="#000" stroke-width="0.9" />
<line x1="178.86" y1="251.50" x2="178.86" y2="253.10" stroke="#000" stroke-width="0.9" />
<line x1="182.72" y1="471.00" x2="182.72" y2="472.50" stroke="#000" stroke-width="0.9" />
<line x1="182.72" y1="251.50" x2="182.72" y2="253.10" stroke="#000" stroke-width="0.9" />
<line x1="186.58" y1="471.00" x2="186.58" y2="472.50" stroke="#000" stroke-width="0.9" />
<line x1="186.58" y1="251.50" x2="186.58" y2="253.10" stroke="#000" stroke-width="0.9" />
<line x1="190.44" y1="471.00" x2="190.44" y2="472.50" stroke="#000" stroke-width="0.9" />
<line x1="190.44" y1="251.50" x2="190.44" y2="253.10" stroke="#000" stroke-width="0.9" />
<line x1="194.30" y1="471.00" x2="194.30" y2="467.00" stroke="#000" stroke-width="1.2" />
<line x1="194.30" y1="248.00" x2="194.30" y2="254.50" stroke="#000" stroke-width="1.2" />
<line x1="198.16" y1="471.00" x2="198.16" y2="472.50" stroke="#000" stroke-width="0.9" />
<line x1="198.16" y1="251.50" x2="198.16" y2="253.10" stroke="#000" stroke-width="0.9" />
<line x1="202.02" y1="471.00" x2="202.02" y2="472.50" stroke="#000" stroke-width="0.9" />
<line x1="202.02" y1="251.50" x2="202.02" y2="253.10" stroke="#000" stroke-width="0.9" />
<line x1="205.88" y1="471.00" x2="205.88" y2="472.50" stroke="#000" stroke-width="0.9" />
<line x1="205.88" y1="251.50" x2="205.88" y2="253.10" stroke="#000" stroke-width="0.9" />
<line x1="209.74" y1="471.00" x2="209.74" y2="472.50" stroke="#000" stroke-width="0.9" />
<line x1="209.74" y1="251.50" x2="209.74" y2="253.10" stroke="#000" stroke-width="0.9" />
<line x1="213.60" y1="471.00" x2="213.60" y2="468.50" stroke="#000" stroke-width="1.0" />
<line x1="213.60" y1="249.00" x2="213.60" y2="253.50" stroke="#000" stroke-width="1.0" />
<line x1="217.46" y1="471.00" x2="217.46" y2="472.50" stroke="#000" stroke-width="0.9" />
<line x1="217.46" y1="251.50" x2="217.46" y2="253.10" stroke="#000" stroke-width="0.9" />
<line x1="221.32" y1="471.00" x2="221.32" y2="472.50" stroke="#000" stroke-width="0.9" />
<line x1="221.32" y1="251.50" x2="221.32" y2="253.10" stroke="#000" stroke-width="0.9" />
<line x1="225.18" y1="471.00" x2="225.18" y2="472.50" stroke="#000" stroke-width="0.9" />
<line x1="225.18" y1="251.50" x2="225.18" y2="253.10" stroke="#000" stroke-width="0.9" />
<line x1="229.04" y1="471.00" x2="229.04" y2="472.50" stroke="#000" stroke-width="0.9" />
<line x1="229.04" y1="251.50" x2="229.04" y2="253.10" stroke="#000" stroke-width="0.9" />
<line x1="232.90" y1="471.00" x2="232.90" y2="467.00" stroke="#000" stroke-width="1.2" />
<line x1="232.90" y1="248.00" x2="232.90" y2="254.50" stroke="#000" stroke-width="1.2" />
<line x1="236.76" y1="471.00" x2="236.76" y2="472.50" stroke="#000" stroke-width="0.9" />
<line x1="236.76" y1="251.50" x2="236.76" y2="253.10" stroke="#000" stroke-width="0.9" />
<line x1="240.62" y1="471.00" x2="240.62" y2="472.50" stroke="#000" stroke-width="0.9" />
<line x1="240.62" y1="251.50" x2="240.62" y2="253.10" stroke="#000" stroke-width="0.9" />
<line x1="244.48" y1="471.00" x2="244.48" y2="472.50" stroke="#000" stroke-width="0.9" />
<line x1="244.48" y1="251.50" x2="244.48" y2="253.10" stroke="#000" stroke-width="0.9" />
<line x1="248.34" y1="471.00" x2="248.34" y2="472.50" stroke="#000" stroke-width="0.9" />
<line x1="248.34" y1="251.50" x2="248.34" y2="253.10" stroke="#000" stroke-width="0.9" />
<line x1="252.20" y1="471.00" x2="252.20" y2="468.50" stroke="#000" stroke-width="1.0" />
<line x1="252.20" y1="249.00" x2="252.20" y2="253.50" stroke="#000" stroke-width="1.0" />
<line x1="256.06" y1="471.00" x2="256.06" y2="472.50" stroke="#000" stroke-width="0.9" />
<line x1="256.06" y1="251.50" x2="256.06" y2="253.10" stroke="#000" stroke-width="0.9" />
<line x1="259.92" y1="471.00" x2="259.92" y2="472.50" stroke="#000" stroke-width="0.9" />
<line x1="259.92" y1="251.50" x2="259.92" y2="253.10" stroke="#000" stroke-width="0.9" />
<line x1="263.78" y1="471.00" x2="263.78" y2="472.50" stroke="#000" stroke-width="0.9" />
<line x1="263.78" y1="251.50" x2="263.78" y2="253.10" stroke="#000" stroke-width="0.9" />
<line x1="267.64" y1="471.00" x2="267.64" y2="472.50" stroke="#000" stroke-width="0.9" />
<line x1="267.64" y1="251.50" x2="267.64" y2="253.10" stroke="#000" stroke-width="0.9" />
<line x1="271.50" y1="471.00" x2="271.50" y2="467.00" stroke="#000" stroke-width="1.2" />
<line x1="271.50" y1="248.00" x2="271.50" y2="254.50" stroke="#000" stroke-width="1.2" />
<line x1="275.36" y1="471.00" x2="275.36" y2="472.50" stroke="#000" stroke-width="0.9" />
<line x1="275.36" y1="251.50" x2="275.36" y2="253.10" stroke="#000" stroke-width="0.9" />
<line x1="279.22" y1="471.00" x2="279.22" y2="472.50" stroke="#000" stroke-width="0.9" />
<line x1="279.22" y1="251.50" x2="279.22" y2="253.10" stroke="#000" stroke-width="0.9" />
<line x1="283.08" y1="471.00" x2="283.08" y2="472.50" stroke="#000" stroke-width="0.9" />
<line x1="283.08" y1="251.50" x2="283.08" y2="253.10" stroke="#000" stroke-width="0.9" />
<line x1="286.94" y1="471.00" x2="286.94" y2="472.50" stroke="#000" stroke-width="0.9" />
<line x1="286.94" y1="251.50" x2="286.94" y2="253.10" stroke="#000" stroke-width="0.9" />
<line x1="290.80" y1="471.00" x2="290.80" y2="468.50" stroke="#000" stroke-width="1.0" />
<line x1="290.80" y1="249.00" x2="290.80" y2="253.50" stroke="#000" stroke-width="1.0" />
<line x1="294.66" y1="471.00" x2="294.66" y2="472.50" stroke="#000" stroke-width="0.9" />
<line x1="294.66" y1="251.50" x2="294.66" y2="253.10" stroke="#000" stroke-width="0.9" />
<line x1="298.52" y1="471.00" x2="298.52" y2="472.50" stroke="#000" stroke-width="0.9" />
<line x1="298.52" y1="251.50" x2="298.52" y2="253.10" stroke="#000" stroke-width="0.9" />
<line x1="302.38" y1="471.00" x2="302.38" y2="472.50" stroke="#000" stroke-width="0.9" />
<line x1="302.38" y1="251.50" x2="302.38" y2="253.10" stroke="#000" stroke-width="0.9" />
<line x1="306.24" y1="471.00" x2="306.24" y2="472.50" stroke="#000" stroke-width="0.9" />
<line x1="306.24" y1="251.50" x2="306.24" y2="253.10" stroke="#000" stroke-width="0.9" />
<line x1="310.10" y1="471.00" x2="310.10" y2="467.00" stroke="#000" stroke-width="1.2" />
<line x1="310.10" y1="248.00" x2="310.10" y2="254.50" stroke="#000" stroke-width="1.2" />
<line x1="313.96" y1="471.00" x2="313.96" y2="472.50" stroke="#000" stroke-width="0.9" />
<line x1="313.96" y1="251.50" x2="313.96" y2="253.10" stroke="#000" stroke-width="0.9" />
<line x1="317.82" y1="471.00" x2="317.82" y2="472.50" stroke="#000" stroke-width="0.9" />
<line x1="317.82" y1="251.50" x2="317.82" y2="253.10" stroke="#000" stroke-width="0.9" />
<line x1="321.68" y1="471.00" x2="321.68" y2="472.50" stroke="#000" stroke-width="0.9" />
<line x1="321.68" y1="251.50" x2="321.68" y2="253.10" stroke="#000" stroke-width="0.9" />
<line x1="325.54" y1="471.00" x2="325.54" y2="472.50" stroke="#000" stroke-width="0.9" />
<line x1="325.54" y1="251.50" x2="325.54" y2="253.10" stroke="#000" stroke-width="0.9" />
<line x1="329.40" y1="471.00" x2="329.40" y2="468.50" stroke="#000" stroke-width="1.0" />
<line x1="329.40" y1="249.00" x2="329.40" y2="253.50" stroke="#000" stroke-width="1.0" />
<line x1="59.50" y1="251.50" x2="64.00" y2="251.50" stroke="#000" stroke-width="1.2" />
<line x1="330.00" y1="251.50" x2="325.50" y2="251.50" stroke="#000" stroke-width="1.2" />
<line x1="59.50" y1="277.07" x2="61.70" y2="277.07" stroke="#000" stroke-width="0.9" />
<line x1="330.00" y1="277.07" x2="327.80" y2="277.07" stroke="#000" stroke-width="0.9" />
<line x1="59.50" y1="270.63" x2="61.70" y2="270.63" stroke="#000" stroke-width="0.9" />
<line x1="330.00" y1="270.63" x2="327.80" y2="270.63" stroke="#000" stroke-width="0.9" />
<line x1="59.50" y1="266.06" x2="61.70" y2="266.06" stroke="#000" stroke-width="0.9" />
<line x1="330.00" y1="266.06" x2="327.80" y2="266.06" stroke="#000" stroke-width="0.9" />
<line x1="59.50" y1="262.51" x2="61.70" y2="262.51" stroke="#000" stroke-width="0.9" />
<line x1="330.00" y1="262.51" x2="327.80" y2="262.51" stroke="#000" stroke-width="0.9" />
<line x1="59.50" y1="259.62" x2="61.70" y2="259.62" stroke="#000" stroke-width="0.9" />
<line x1="330.00" y1="259.62" x2="327.80" y2="259.62" stroke="#000" stroke-width="0.9" />
<line x1="59.50" y1="257.17" x2="61.70" y2="257.17" stroke="#000" stroke-width="0.9" />
<line x1="330.00" y1="257.17" x2="327.80" y2="257.17" stroke="#000" stroke-width="0.9" />
<line x1="59.50" y1="255.05" x2="61.70" y2="255.05" stroke="#000" stroke-width="0.9" />
<line x1="330.00" y1="255.05" x2="327.80" y2="255.05" stroke="#000" stroke-width="0.9" />
<line x1="59.50" y1="253.17" x2="61.70" y2="253.17" stroke="#000" stroke-width="0.9" />
<line x1="330.00" y1="253.17" x2="327.80" y2="253.17" stroke="#000" stroke-width="0.9" />
<line x1="59.50" y1="288.08" x2="64.00" y2="288.08" stroke="#000" stroke-width="1.2" />
<line x1="330.00" y1="288.08" x2="325.50" y2="288.08" stroke="#000" stroke-width="1.2" />
<line x1="59.50" y1="313.65" x2="61.70" y2="313.65" stroke="#000" stroke-width="0.9" />
<line x1="330.00" y1="313.65" x2="327.80" y2="313.65" stroke="#000" stroke-width="0.9" />
<line x1="59.50" y1="307.21" x2="61.70" y2="307.21" stroke="#000" stroke-width="0.9" />
<line x1="330.00" y1="307.21" x2="327.80" y2="307.21" stroke="#000" stroke-width="0.9" />
<line x1="59.50" y1="302.64" x2="61.70" y2="302.64" stroke="#000" stroke-width="0.9" />
<line x1="330.00" y1="302.64" x2="327.80" y2="302.64" stroke="#000" stroke-width="0.9" />
<line x1="59.50" y1="299.10" x2="61.70" y2="299.10" stroke="#000" stroke-width="0.9" />
<line x1="330.00" y1="299.10" x2="327.80" y2="299.10" stroke="#000" stroke-width="0.9" />
<line x1="59.50" y1="296.20" x2="61.70" y2="296.20" stroke="#000" stroke-width="0.9" />
<line x1="330.00" y1="296.20" x2="327.80" y2="296.20" stroke="#000" stroke-width="0.9" />
<line x1="59.50" y1="293.75" x2="61.70" y2="293.75" stroke="#000" stroke-width="0.9" />
<line x1="330.00" y1="293.75" x2="327.80" y2="293.75" stroke="#000" stroke-width="0.9" />
<line x1="59.50" y1="291.63" x2="61.70" y2="291.63" stroke="#000" stroke-width="0.9" />
<line x1="330.00" y1="291.63" x2="327.80" y2="291.63" stroke="#000" stroke-width="0.9" />
<line x1="59.50" y1="289.76" x2="61.70" y2="289.76" stroke="#000" stroke-width="0.9" />
<line x1="330.00" y1="289.76" x2="327.80" y2="289.76" stroke="#000" stroke-width="0.9" />
<line x1="59.50" y1="324.67" x2="64.00" y2="324.67" stroke="#000" stroke-width="1.2" />
<line x1="330.00" y1="324.67" x2="325.50" y2="324.67" stroke="#000" stroke-width="1.2" />
<line x1="59.50" y1="350.24" x2="61.70" y2="350.24" stroke="#000" stroke-width="0.9" />
<line x1="330.00" y1="350.24" x2="327.80" y2="350.24" stroke="#000" stroke-width="0.9" />
<line x1="59.50" y1="343.80" x2="61.70" y2="343.80" stroke="#000" stroke-width="0.9" />
<line x1="330.00" y1="343.80" x2="327.80" y2="343.80" stroke="#000" stroke-width="0.9" />
<line x1="59.50" y1="339.22" x2="61.70" y2="339.22" stroke="#000" stroke-width="0.9" />
<line x1="330.00" y1="339.22" x2="327.80" y2="339.22" stroke="#000" stroke-width="0.9" />
<line x1="59.50" y1="335.68" x2="61.70" y2="335.68" stroke="#000" stroke-width="0.9" />
<line x1="330.00" y1="335.68" x2="327.80" y2="335.68" stroke="#000" stroke-width="0.9" />
<line x1="59.50" y1="332.78" x2="61.70" y2="332.78" stroke="#000" stroke-width="0.9" />
<line x1="330.00" y1="332.78" x2="327.80" y2="332.78" stroke="#000" stroke-width="0.9" />
<line x1="59.50" y1="330.33" x2="61.70" y2="330.33" stroke="#000" stroke-width="0.9" />
<line x1="330.00" y1="330.33" x2="327.80" y2="330.33" stroke="#000" stroke-width="0.9" />
<line x1="59.50" y1="328.21" x2="61.70" y2="328.21" stroke="#000" stroke-width="0.9" />
<line x1="330.00" y1="328.21" x2="327.80" y2="328.21" stroke="#000" stroke-width="0.9" />
<line x1="59.50" y1="326.34" x2="61.70" y2="326.34" stroke="#000" stroke-width="0.9" />
<line x1="330.00" y1="326.34" x2="327.80" y2="326.34" stroke="#000" stroke-width="0.9" />
<line x1="59.50" y1="361.25" x2="64.00" y2="361.25" stroke="#000" stroke-width="1.2" />
<line x1="330.00" y1="361.25" x2="325.50" y2="361.25" stroke="#000" stroke-width="1.2" />
<line x1="59.50" y1="386.82" x2="61.70" y2="386.82" stroke="#000" stroke-width="0.9" />
<line x1="330.00" y1="386.82" x2="327.80" y2="386.82" stroke="#000" stroke-width="0.9" />
<line x1="59.50" y1="380.38" x2="61.70" y2="380.38" stroke="#000" stroke-width="0.9" />
<line x1="330.00" y1="380.38" x2="327.80" y2="380.38" stroke="#000" stroke-width="0.9" />
<line x1="59.50" y1="375.81" x2="61.70" y2="375.81" stroke="#000" stroke-width="0.9" />
<line x1="330.00" y1="375.81" x2="327.80" y2="375.81" stroke="#000" stroke-width="0.9" />
<line x1="59.50" y1="372.26" x2="61.70" y2="372.26" stroke="#000" stroke-width="0.9" />
<line x1="330.00" y1="372.26" x2="327.80" y2="372.26" stroke="#000" stroke-width="0.9" />
<line x1="59.50" y1="369.37" x2="61.70" y2="369.37" stroke="#000" stroke-width="0.9" />
<line x1="330.00" y1="369.37" x2="327.80" y2="369.37" stroke="#000" stroke-width="0.9" />
<line x1="59.50" y1="366.92" x2="61.70" y2="366.92" stroke="#000" stroke-width="0.9" />
<line x1="330.00" y1="366.92" x2="327.80" y2="366.92" stroke="#000" stroke-width="0.9" />
<line x1="59.50" y1="364.80" x2="61.70" y2="364.80" stroke="#000" stroke-width="0.9" />
<line x1="330.00" y1="364.80" x2="327.80" y2="364.80" stroke="#000" stroke-width="0.9" />
<line x1="59.50" y1="362.92" x2="61.70" y2="362.92" stroke="#000" stroke-width="0.9" />
<line x1="330.00" y1="362.92" x2="327.80" y2="362.92" stroke="#000" stroke-width="0.9" />
<line x1="59.50" y1="397.83" x2="64.00" y2="397.83" stroke="#000" stroke-width="1.2" />
<line x1="330.00" y1="397.83" x2="325.50" y2="397.83" stroke="#000" stroke-width="1.2" />
<line x1="59.50" y1="423.40" x2="61.70" y2="423.40" stroke="#000" stroke-width="0.9" />
<line x1="330.00" y1="423.40" x2="327.80" y2="423.40" stroke="#000" stroke-width="0.9" />
<line x1="59.50" y1="416.96" x2="61.70" y2="416.96" stroke="#000" stroke-width="0.9" />
<line x1="330.00" y1="416.96" x2="327.80" y2="416.96" stroke="#000" stroke-width="0.9" />
<line x1="59.50" y1="412.39" x2="61.70" y2="412.39" stroke="#000" stroke-width="0.9" />
<line x1="330.00" y1="412.39" x2="327.80" y2="412.39" stroke="#000" stroke-width="0.9" />
<line x1="59.50" y1="408.85" x2="61.70" y2="408.85" stroke="#000" stroke-width="0.9" />
<line x1="330.00" y1="408.85" x2="327.80" y2="408.85" stroke="#000" stroke-width="0.9" />
<line x1="59.50" y1="405.95" x2="61.70" y2="405.95" stroke="#000" stroke-width="0.9" />
<line x1="330.00" y1="405.95" x2="327.80" y2="405.95" stroke="#000" stroke-width="0.9" />
<line x1="59.50" y1="403.50" x2="61.70" y2="403.50" stroke="#000" stroke-width="0.9" />
<line x1="330.00" y1="403.50" x2="327.80" y2="403.50" stroke="#000" stroke-width="0.9" />
<line x1="59.50" y1="401.38" x2="61.70" y2="401.38" stroke="#000" stroke-width="0.9" />
<line x1="330.00" y1="401.38" x2="327.80" y2="401.38" stroke="#000" stroke-width="0.9" />
<line x1="59.50" y1="399.51" x2="61.70" y2="399.51" stroke="#000" stroke-width="0.9" />
<line x1="330.00" y1="399.51" x2="327.80" y2="399.51" stroke="#000" stroke-width="0.9" />
<line x1="59.50" y1="434.42" x2="64.00" y2="434.42" stroke="#000" stroke-width="1.2" />
<line x1="330.00" y1="434.42" x2="325.50" y2="434.42" stroke="#000" stroke-width="1.2" />
<line x1="59.50" y1="459.99" x2="61.70" y2="459.99" stroke="#000" stroke-width="0.9" />
<line x1="330.00" y1="459.99" x2="327.80" y2="459.99" stroke="#000" stroke-width="0.9" />
<line x1="59.50" y1="453.55" x2="61.70" y2="453.55" stroke="#000" stroke-width="0.9" />
<line x1="330.00" y1="453.55" x2="327.80" y2="453.55" stroke="#000" stroke-width="0.9" />
<line x1="59.50" y1="448.97" x2="61.70" y2="448.97" stroke="#000" stroke-width="0.9" />
<line x1="330.00" y1="448.97" x2="327.80" y2="448.97" stroke="#000" stroke-width="0.9" />
<line x1="59.50" y1="445.43" x2="61.70" y2="445.43" stroke="#000" stroke-width="0.9" />
<line x1="330.00" y1="445.43" x2="327.80" y2="445.43" stroke="#000" stroke-width="0.9" />
<line x1="59.50" y1="442.53" x2="61.70" y2="442.53" stroke="#000" stroke-width="0.9" />
<line x1="330.00" y1="442.53" x2="327.80" y2="442.53" stroke="#000" stroke-width="0.9" />
<line x1="59.50" y1="440.08" x2="61.70" y2="440.08" stroke="#000" stroke-width="0.9" />
<line x1="330.00" y1="440.08" x2="327.80" y2="440.08" stroke="#000" stroke-width="0.9" />
<line x1="59.50" y1="437.96" x2="61.70" y2="437.96" stroke="#000" stroke-width="0.9" />
<line x1="330.00" y1="437.96" x2="327.80" y2="437.96" stroke="#000" stroke-width="0.9" />
<line x1="59.50" y1="436.09" x2="61.70" y2="436.09" stroke="#000" stroke-width="0.9" />
<line x1="330.00" y1="436.09" x2="327.80" y2="436.09" stroke="#000" stroke-width="0.9" /></g>
<rect x="59.5" y="32.0" width="270.5" height="439.0" fill="none" stroke="#000" stroke-width="1.5"/>
<line x1="59.5" y1="251.5" x2="330.0" y2="251.5" stroke="#000" stroke-width="1.5"/>
<line x1="192.3" y1="32.0" x2="192.3" y2="471.0" stroke="#000" stroke-width="1" stroke-dasharray="6,3"/>
<line x1="194.3" y1="32.0" x2="194.3" y2="471.0" stroke="#000" stroke-width="1.2"/>
<line x1="223.4" y1="32.0" x2="223.4" y2="471.0" stroke="#000" stroke-width="1" stroke-dasharray="6,3"/>
<line x1="59.5" y1="169.3" x2="204" y2="169.3" stroke="#000" stroke-width="1.1"/>
<text x="106.6" y="9.8" font-size="12.5" textLength="181.5" lengthAdjust="spacingAndGlyphs">Electric Field Strength (kV/cm)</text>
<text x="82.0" y="23.6" font-size="12" text-anchor="middle" >-120</text>
<text x="119.5" y="23.6" font-size="12" text-anchor="middle" >-80</text>
<text x="157.0" y="23.6" font-size="12" text-anchor="middle" >-40</text>
<text x="194.5" y="23.6" font-size="12" text-anchor="middle" >0</text>
<text x="232.0" y="23.6" font-size="12" text-anchor="middle" >40</text>
<text x="269.5" y="23.6" font-size="12" text-anchor="middle" >80</text>
<text x="307.0" y="23.6" font-size="12" text-anchor="middle" >120</text>
<text x="3.4" y="35.9" font-size="19" text-anchor="start" font-weight="bold">(a)</text>
<text x="53.9" y="35.7" font-size="12" text-anchor="end" >1.05</text>
<text x="53.9" y="63.10000000000002" font-size="12" text-anchor="end" >1.04</text>
<text x="53.9" y="90.50000000000004" font-size="12" text-anchor="end" >1.03</text>
<text x="53.9" y="117.90000000000008" font-size="12" text-anchor="end" >1.02</text>
<text x="53.9" y="145.30000000000007" font-size="12" text-anchor="end" >1.01</text>
<text x="53.9" y="172.7000000000001" font-size="12" text-anchor="end" >1.00</text>
<text x="53.9" y="200.10000000000014" font-size="12" text-anchor="end" >0.99</text>
<text x="53.9" y="227.50000000000014" font-size="12" text-anchor="end" >0.98</text>
<text x="53.9" y="254.90000000000018" font-size="12" text-anchor="end" >0.97</text>
<text x="18.9" y="150.6" font-size="13.4" text-anchor="middle" transform="rotate(-90 18.9 150.6)">Relative PL Intensity</text>
<text x="95.5" y="54.8" font-size="10" text-anchor="start" >INVERSION</text>
<text x="196.5" y="54.8" font-size="10" text-anchor="start" >DEP.</text>
<text x="239.3" y="54.8" font-size="10" textLength="81.6" lengthAdjust="spacingAndGlyphs">ACCUMULATION</text>
<text x="71.6" y="162.3" font-size="10.8" textLength="49.2" lengthAdjust="spacingAndGlyphs">Enhancing</text>
<text x="70.3" y="187.7" font-size="10.8" textLength="51.2" lengthAdjust="spacingAndGlyphs">Quenching</text>
<text x="67.5" y="227.6" font-size="9.5" text-anchor="start" >D</text>
<text x="195.9" y="162.6" font-size="9.5" text-anchor="start" >A</text>
<text x="199.3" y="112.7" font-size="9.5" text-anchor="start" >C</text>
<text x="313" y="101.5" font-size="9" text-anchor="middle" transform="rotate(-90 313 101.5)">B</text>
<text x="-0.2" y="268.5" font-size="18.5" text-anchor="start" font-weight="bold">(b)</text>
<text x="52" y="266.5" font-size="12" text-anchor="end" >1</text>
<text x="52" y="292" font-size="12" text-anchor="end" >0.1</text>
<text x="52" y="328.5" font-size="12" text-anchor="end" >0.01</text>
<text x="49.9" y="366.4" font-size="12" text-anchor="end">1x10</text>
<text x="50.3" y="360.2" font-size="6.2">-3</text>
<text x="49.9" y="403.2" font-size="12" text-anchor="end">1x10</text>
<text x="50.3" y="397.0" font-size="6.2">-4</text>
<text x="49.9" y="440.5" font-size="12" text-anchor="end">1x10</text>
<text x="50.3" y="434.3" font-size="6.2">-5</text>
<text x="49.9" y="475.6" font-size="12" text-anchor="end">1x10</text>
<text x="50.3" y="469.40000000000003" font-size="6.2">-6</text>
<text x="17.3" y="371.5" font-size="13.6" text-anchor="middle" transform="rotate(-90 17.3 371.5)">Current density (A/cm<tspan font-size="7" dy="-3.6">2</tspan><tspan dy="3.6">)</tspan></text>
<text x="78.99999999999999" y="486.8" font-size="12" text-anchor="middle" >-3</text>
<text x="117.69999999999999" y="486.8" font-size="12" text-anchor="middle" >-2</text>
<text x="156.39999999999998" y="486.8" font-size="12" text-anchor="middle" >-1</text>
<text x="195.1" y="486.8" font-size="12" text-anchor="middle" >0</text>
<text x="233.8" y="486.8" font-size="12" text-anchor="middle" >1</text>
<text x="272.5" y="486.8" font-size="12" text-anchor="middle" >2</text>
<text x="311.2" y="486.8" font-size="12" text-anchor="middle" >3</text>
<text x="145.2" y="508.2" font-size="13" textLength="100.8" lengthAdjust="spacingAndGlyphs">Gate Voltage (V)</text>
<text x="175.3" y="462" font-size="11.5" font-style="italic">V<tspan font-size="7.5" dy="1.5" font-style="normal" dx="-0.5">T</tspan></text>
<text x="226.8" y="462" font-size="11.5" font-style="italic">V<tspan font-size="7.2" dy="1.8" font-style="normal" dx="-0.8">FB</tspan></text>
<path d="M77.1,232.7 L84.4,234.4 L94.8,237.5 L102,238 L110.2,236.8 L120.6,230.8 L129.1,235.6 L137.4,237.6 L145.7,234 L155.4,234.8 L159,228 L163.8,225.6 L167.5,225.6 L173,216 L179.5,206.3 L186.8,193 L193.6,169.3 L200.4,168.7 L208.6,153.5 L214.9,141.7 L218.9,134.5 L222.9,122.8 L228.5,122.1 L232.8,115.3 L237.6,107.7 L241.5,99.7 L248,100.9 L253.6,98 L260.6,90 L271.3,91.4 L275,85.4 L284.9,84.5 L287.7,82.1 L293.1,87.6 L298.5,87.2 L311.8,92.3" fill="none" stroke="#000" stroke-width="0.8" stroke-dasharray="1,1.6"/>
<circle cx="77.1" cy="232.7" r="1.8" fill="#000"/>
<circle cx="84.4" cy="234.4" r="1.8" fill="#000"/>
<circle cx="94.8" cy="237.5" r="1.8" fill="#000"/>
<circle cx="102" cy="238" r="1.8" fill="#000"/>
<circle cx="110.2" cy="236.8" r="1.8" fill="#000"/>
<circle cx="120.6" cy="230.8" r="1.8" fill="#000"/>
<circle cx="129.1" cy="235.6" r="1.8" fill="#000"/>
<circle cx="137.4" cy="237.6" r="1.8" fill="#000"/>
<circle cx="145.7" cy="234" r="1.8" fill="#000"/>
<circle cx="155.4" cy="234.8" r="1.8" fill="#000"/>
<circle cx="159" cy="228" r="1.8" fill="#000"/>
<circle cx="163.8" cy="225.6" r="1.8" fill="#000"/>
<circle cx="167.5" cy="225.6" r="1.8" fill="#000"/>
<circle cx="173" cy="216" r="1.8" fill="#000"/>
<circle cx="179.5" cy="206.3" r="1.8" fill="#000"/>
<circle cx="186.8" cy="193" r="1.8" fill="#000"/>
<circle cx="193.6" cy="169.3" r="1.8" fill="#000"/>
<circle cx="200.4" cy="168.7" r="1.8" fill="#000"/>
<circle cx="208.6" cy="153.5" r="1.8" fill="#000"/>
<circle cx="214.9" cy="141.7" r="1.8" fill="#000"/>
<circle cx="218.9" cy="134.5" r="1.8" fill="#000"/>
<circle cx="222.9" cy="122.8" r="1.8" fill="#000"/>
<circle cx="228.5" cy="122.1" r="1.8" fill="#000"/>
<circle cx="232.8" cy="115.3" r="1.8" fill="#000"/>
<circle cx="237.6" cy="107.7" r="1.8" fill="#000"/>
<circle cx="241.5" cy="99.7" r="1.8" fill="#000"/>
<circle cx="248" cy="100.9" r="1.8" fill="#000"/>
<circle cx="253.6" cy="98" r="1.8" fill="#000"/>
<circle cx="260.6" cy="90" r="1.8" fill="#000"/>
<circle cx="271.3" cy="91.4" r="1.8" fill="#000"/>
<circle cx="275" cy="85.4" r="1.8" fill="#000"/>
<circle cx="284.9" cy="84.5" r="1.8" fill="#000"/>
<circle cx="287.7" cy="82.1" r="1.8" fill="#000"/>
<circle cx="293.1" cy="87.6" r="1.8" fill="#000"/>
<circle cx="298.5" cy="87.2" r="1.8" fill="#000"/>
<circle cx="311.8" cy="92.3" r="1.8" fill="#000"/>
<path d="M311.8,92.3 L306.7,86.3 L303.1,82.7 L294.9,78.7 L288.6,80.3 L281.7,77.6 L273.7,69.4 L267.7,67.6 L259.4,66.2 L249.2,71.4 L240,70.7 L232.3,66.4 L225.8,80.4 L220.2,78 L217.3,76.8 L208.9,84.5 L205,88.8 L193.5,102.2 L187.7,112.3 L185.4,120 L181.8,121.4 L177.6,131 L171.2,142.6 L167.4,150.6 L163,159.9 L157.4,159.7 L151.9,166.7 L148.9,171.1 L143.5,177.6 L136.2,186.9 L130.8,196.4 L122.6,196.4 L115.1,205.4 L107.3,211.4 L98.4,211.4 L91.6,221.1 L83.9,221.1" fill="none" stroke="#000" stroke-width="0.8" stroke-dasharray="1,1.6"/>
<circle cx="311.8" cy="92.3" r="1.8" fill="#000"/>
<circle cx="306.7" cy="86.3" r="1.8" fill="#000"/>
<circle cx="303.1" cy="82.7" r="1.8" fill="#000"/>
<circle cx="294.9" cy="78.7" r="1.8" fill="#000"/>
<circle cx="288.6" cy="80.3" r="1.8" fill="#000"/>
<circle cx="281.7" cy="77.6" r="1.8" fill="#000"/>
<circle cx="273.7" cy="69.4" r="1.8" fill="#000"/>
<circle cx="267.7" cy="67.6" r="1.8" fill="#000"/>
<circle cx="259.4" cy="66.2" r="1.8" fill="#000"/>
<circle cx="249.2" cy="71.4" r="1.8" fill="#000"/>
<circle cx="240" cy="70.7" r="1.8" fill="#000"/>
<circle cx="232.3" cy="66.4" r="1.8" fill="#000"/>
<circle cx="225.8" cy="80.4" r="1.8" fill="#000"/>
<circle cx="220.2" cy="78" r="1.8" fill="#000"/>
<circle cx="217.3" cy="76.8" r="1.8" fill="#000"/>
<circle cx="208.9" cy="84.5" r="1.8" fill="#000"/>
<circle cx="205" cy="88.8" r="1.8" fill="#000"/>
<circle cx="193.5" cy="102.2" r="1.8" fill="#000"/>
<circle cx="187.7" cy="112.3" r="1.8" fill="#000"/>
<circle cx="185.4" cy="120" r="1.8" fill="#000"/>
<circle cx="181.8" cy="121.4" r="1.8" fill="#000"/>
<circle cx="177.6" cy="131" r="1.8" fill="#000"/>
<circle cx="171.2" cy="142.6" r="1.8" fill="#000"/>
<circle cx="167.4" cy="150.6" r="1.8" fill="#000"/>
<circle cx="163" cy="159.9" r="1.8" fill="#000"/>
<circle cx="157.4" cy="159.7" r="1.8" fill="#000"/>
<circle cx="151.9" cy="166.7" r="1.8" fill="#000"/>
<circle cx="148.9" cy="171.1" r="1.8" fill="#000"/>
<circle cx="143.5" cy="177.6" r="1.8" fill="#000"/>
<circle cx="136.2" cy="186.9" r="1.8" fill="#000"/>
<circle cx="130.8" cy="196.4" r="1.8" fill="#000"/>
<circle cx="122.6" cy="196.4" r="1.8" fill="#000"/>
<circle cx="115.1" cy="205.4" r="1.8" fill="#000"/>
<circle cx="107.3" cy="211.4" r="1.8" fill="#000"/>
<circle cx="98.4" cy="211.4" r="1.8" fill="#000"/>
<circle cx="91.6" cy="221.1" r="1.8" fill="#000"/>
<circle cx="83.9" cy="221.1" r="1.8" fill="#000"/>
<circle cx="77.1" cy="232.7" r="3.9" fill="none" stroke="#000" stroke-width="1.1"/>
<circle cx="193.6" cy="169.3" r="3.9" fill="none" stroke="#000" stroke-width="1.1"/>
<circle cx="193.5" cy="102.2" r="3.9" fill="none" stroke="#000" stroke-width="1.1"/>
<circle cx="311.8" cy="92.3" r="3.9" fill="none" stroke="#000" stroke-width="1.1"/>
<rect x="204.3" y="164.2" width="125.7" height="98.8" fill="#fff"/>
<path d="M204.3,263 V164.2 H330" fill="none" stroke="#000" stroke-width="1.2"/>
<path d="M204.3,262.7 H328.6 V164.2" fill="none" stroke="#000" stroke-width="1" stroke-dasharray="1.6,0.8"/>
<path d="M228.8,169.8 H323.4" fill="none" stroke="#000" stroke-width="0.9" stroke-dasharray="4,1.3"/>
<path d="M323.4,169.8 V241.8" fill="none" stroke="#000" stroke-width="0.9" stroke-dasharray="2.5,1.2"/>
<path d="M228.8,169.8 V241.8 H323.4" fill="none" stroke="#000" stroke-width="0.9" stroke-dasharray="1.2,1"/>
<text x="227" y="173.0" font-size="6.5" text-anchor="end" >1.0</text>
<text x="227" y="185.10000000000002" font-size="6.5" text-anchor="end" >0.8</text>
<text x="227" y="197.9" font-size="6.5" text-anchor="end" >0.6</text>
<text x="227" y="210.5" font-size="6.5" text-anchor="end" >0.4</text>
<text x="227" y="222.9" font-size="6.5" text-anchor="end" >0.2</text>
<text x="227" y="237.10000000000002" font-size="6.5" text-anchor="end" >0.0</text>
<text x="238" y="248.8" font-size="6.5" text-anchor="middle" >600</text>
<text x="259.3" y="248.8" font-size="6.5" text-anchor="middle" >700</text>
<text x="276.5" y="248.8" font-size="6.5" text-anchor="middle" >800</text>
<text x="296" y="248.8" font-size="6.5" text-anchor="middle" >900</text>
<text x="316" y="248.8" font-size="6.5" text-anchor="middle" >1000</text>
<text x="276" y="261" font-size="7" text-anchor="middle" >Wavelength (nm)</text>
<text x="213.4" y="208.5" font-size="7.5" text-anchor="middle" transform="rotate(-90 213.4 208.5)">PL Intensity (a.u.)</text>
<path d="M238.3,234.41 L238.7,234.39 L239.1,234.37 L239.5,234.35 L239.9,234.33 L240.3,234.30 L240.7,234.27 L241.1,234.24 L241.5,234.21 L241.9,234.17 L242.3,234.13 L242.7,234.09 L243.1,234.04 L243.5,233.99 L243.9,233.94 L244.3,233.88 L244.7,233.81 L245.1,233.75 L245.5,233.67 L245.9,233.60 L246.3,233.51 L246.7,233.42 L247.1,233.33 L247.5,233.22 L247.9,233.11 L248.3,232.99 L248.7,232.87 L249.1,232.73 L249.5,232.59 L249.9,232.44 L250.3,232.28 L250.7,232.11 L251.1,231.92 L251.5,231.73 L251.9,231.53 L252.3,231.31 L252.7,231.08 L253.1,230.84 L253.5,230.58 L253.9,230.31 L254.3,230.03 L254.7,229.73 L255.1,229.42 L255.5,229.09 L255.9,228.74 L256.3,228.38 L256.7,228.00 L257.1,227.60 L257.5,227.19 L257.9,226.76 L258.3,226.30 L258.7,225.83 L259.1,225.34 L259.5,224.83 L259.9,224.30 L260.3,223.75 L260.7,223.18 L261.1,222.59 L261.5,221.98 L261.9,221.35 L262.3,220.70 L262.7,220.03 L263.1,219.34 L263.5,218.63 L263.9,217.90 L264.3,217.15 L264.7,216.38 L265.1,215.59 L265.5,214.78 L265.9,213.96 L266.3,213.12 L266.7,212.26 L267.1,211.39 L267.5,210.51 L267.9,209.60 L268.3,208.69 L268.7,207.77 L269.1,206.83 L269.5,205.89 L269.9,204.93 L270.3,203.97 L270.7,203.01 L271.1,202.04 L271.5,201.06 L271.9,200.09 L272.3,199.11 L272.7,198.14 L273.1,197.17 L273.5,196.21 L273.9,195.25 L274.3,194.31 L274.7,193.37 L275.1,192.44 L275.5,191.53 L275.9,190.64 L276.3,189.76 L276.7,188.90 L277.1,188.06 L277.5,187.25 L277.9,186.46 L278.3,185.69 L278.7,184.96 L279.1,184.25 L279.5,183.58 L279.9,182.93 L280.3,182.32 L280.7,181.75 L281.1,181.21 L281.5,180.71 L281.9,180.26 L282.3,179.84 L282.7,179.46 L283.1,179.12 L283.5,178.83 L283.9,178.58 L284.3,178.37 L284.7,178.21 L285.1,178.10 L285.5,178.03 L285.9,178.00 L286.3,178.02 L286.7,178.09 L287.1,178.20 L287.5,178.36 L287.9,178.56 L288.3,178.80 L288.7,179.09 L289.1,179.42 L289.5,179.80 L289.9,180.21 L290.3,180.67 L290.7,181.16 L291.1,181.70 L291.5,182.27 L291.9,182.87 L292.3,183.51 L292.7,184.19 L293.1,184.89 L293.5,185.62 L293.9,186.39 L294.3,187.17 L294.7,187.99 L295.1,188.82 L295.5,189.68 L295.9,190.55 L296.3,191.45 L296.7,192.36 L297.1,193.28 L297.5,194.22 L297.9,195.16 L298.3,196.12 L298.7,197.08 L299.1,198.05 L299.5,199.02 L299.9,200.00 L300.3,200.97 L300.7,201.94 L301.1,202.91 L301.5,203.88 L301.9,204.84 L302.3,205.80 L302.7,206.74 L303.1,207.68 L303.5,208.60 L303.9,209.52 L304.3,210.42 L304.7,211.31 L305.1,212.18 L305.5,213.04 L305.9,213.88 L306.3,214.71 L306.7,215.51 L307.1,216.30 L307.5,217.08 L307.9,217.83 L308.3,218.56 L308.7,219.27 L309.1,219.97 L309.5,220.64 L309.9,221.29 L310.3,221.92 L310.7,222.54 L311.1,223.13 L311.5,223.70 L311.9,224.25 L312.3,224.78 L312.7,225.29 L313.1,225.79 L313.5,226.26" fill="none" stroke="#000" stroke-width="1"/>
<text x="204.6" y="257.6" font-size="19" text-anchor="start" font-weight="bold">(c)</text>
<line x1="72.3" y1="263" x2="95.3" y2="263" stroke="#000" stroke-width="1"/>
<path d="M83.2,260.2 L86,265 L80.4,265 Z" fill="#fff" stroke="#000" stroke-width="0.9"/>
<text x="97.6" y="266.2" font-size="8.8" textLength="17" lengthAdjust="spacingAndGlyphs">Dark</text>
<line x1="72.3" y1="274.2" x2="95.3" y2="274.2" stroke="#000" stroke-width="1"/>
<circle cx="83.5" cy="274.2" r="2.8" fill="#000"/>
<text x="97.6" y="277.6" font-size="8.8" textLength="38.8" lengthAdjust="spacingAndGlyphs">Illuminated</text>
<path d="M76.4,370.2 L80.3,370.7 L84.1,371.2 L88.0,371.7 L91.8,372.2 L95.7,372.7 L99.6,373.2 L103.4,373.7 L107.3,374.2 L111.1,374.7 L115.0,375.2 L118.9,375.7 L122.7,376.2 L126.6,376.7 L130.4,377.2 L134.3,377.7 L138.2,378.2 L142.0,378.7 L145.9,379.2 L149.7,379.7 L153.6,380.2 L157.5,380.7 L163.8,381.9 L166.5,383.0 L169.1,384.4" fill="none" stroke="#000" stroke-width="1.2"/>
<path d="M169.1,384.4 L173.3,389.7 L177.6,390.3 L180.7,397.5 L186.0,407.2 L188.2,413.6" fill="none" stroke="#000" stroke-width="0.9" stroke-dasharray="1,1.2"/>
<circle cx="76.4" cy="370.2" r="1.8" fill="#000"/>
<circle cx="80.3" cy="370.7" r="1.8" fill="#000"/>
<circle cx="84.1" cy="371.2" r="1.8" fill="#000"/>
<circle cx="88.0" cy="371.7" r="1.8" fill="#000"/>
<circle cx="91.8" cy="372.2" r="1.8" fill="#000"/>
<circle cx="95.7" cy="372.7" r="1.8" fill="#000"/>
<circle cx="99.6" cy="373.2" r="1.8" fill="#000"/>
<circle cx="103.4" cy="373.7" r="1.8" fill="#000"/>
<circle cx="107.3" cy="374.2" r="1.8" fill="#000"/>
<circle cx="111.1" cy="374.7" r="1.8" fill="#000"/>
<circle cx="115.0" cy="375.2" r="1.8" fill="#000"/>
<circle cx="118.9" cy="375.7" r="1.8" fill="#000"/>
<circle cx="122.7" cy="376.2" r="1.8" fill="#000"/>
<circle cx="126.6" cy="376.7" r="1.8" fill="#000"/>
<circle cx="130.4" cy="377.2" r="1.8" fill="#000"/>
<circle cx="134.3" cy="377.7" r="1.8" fill="#000"/>
<circle cx="138.2" cy="378.2" r="1.8" fill="#000"/>
<circle cx="142.0" cy="378.7" r="1.8" fill="#000"/>
<circle cx="145.9" cy="379.2" r="1.8" fill="#000"/>
<circle cx="149.7" cy="379.7" r="1.8" fill="#000"/>
<circle cx="153.6" cy="380.2" r="1.8" fill="#000"/>
<circle cx="157.5" cy="380.7" r="1.8" fill="#000"/>
<circle cx="163.8" cy="381.9" r="1.8" fill="#000"/>
<circle cx="166.5" cy="383.0" r="1.8" fill="#000"/>
<circle cx="169.1" cy="384.4" r="1.8" fill="#000"/>
<circle cx="173.3" cy="389.7" r="1.8" fill="#000"/>
<circle cx="177.6" cy="390.3" r="1.8" fill="#000"/>
<circle cx="180.7" cy="397.5" r="1.8" fill="#000"/>
<circle cx="186.0" cy="407.2" r="2.5" fill="#000"/>
<circle cx="188.2" cy="413.6" r="2.5" fill="#000"/>
<path d="M76.3,386.8 L80.2,387.7 L84.0,388.6 L87.9,389.4 L91.7,390.3 L95.6,391.2 L99.5,392.1 L103.3,393.0 L107.2,393.8 L111.0,394.7 L114.9,395.6 L118.8,396.5 L122.6,397.4 L126.5,398.3 L131.5,400.2 L134.2,401.3 L138.5,402.3 L142.7,403.4 L147.0,405.8 L151.4,408.3 L155.0,410.3 L158.8,412.5 L162.5,414.6 L166.5,417.0 L170.8,419.4 L174.3,425.0 L177.0,430.0 L179.9,436.8 L183.0,440.0 L186.1,443.0 L188.3,447.5 L189.6,451.4 L190.3,454.9" fill="none" stroke="#000" stroke-width="0.6" stroke-dasharray="1.2,1.2"/>
<path d="M76.3,385.7 L77.4,387.6 L75.2,387.6 Z" fill="none" stroke="#000" stroke-width="0.45"/>
<path d="M84.0,387.5 L85.1,389.4 L82.9,389.4 Z" fill="none" stroke="#000" stroke-width="0.45"/>
<path d="M91.7,389.2 L92.8,391.1 L90.6,391.1 Z" fill="none" stroke="#000" stroke-width="0.45"/>
<path d="M99.5,391.0 L100.6,392.9 L98.4,392.9 Z" fill="none" stroke="#000" stroke-width="0.45"/>
<path d="M107.2,392.7 L108.3,394.6 L106.1,394.6 Z" fill="none" stroke="#000" stroke-width="0.45"/>
<path d="M114.9,394.5 L116.0,396.4 L113.8,396.4 Z" fill="none" stroke="#000" stroke-width="0.45"/>
<path d="M122.6,396.3 L123.7,398.2 L121.5,398.2 Z" fill="none" stroke="#000" stroke-width="0.45"/>
<path d="M131.5,399.1 L132.6,401.0 L130.4,401.0 Z" fill="none" stroke="#000" stroke-width="0.45"/>
<path d="M138.5,401.2 L139.6,403.1 L137.4,403.1 Z" fill="none" stroke="#000" stroke-width="0.45"/>
<path d="M147.0,404.7 L148.1,406.6 L145.9,406.6 Z" fill="none" stroke="#000" stroke-width="0.45"/>
<path d="M155.0,409.2 L156.1,411.1 L153.9,411.1 Z" fill="none" stroke="#000" stroke-width="0.45"/>
<path d="M162.5,413.5 L163.6,415.4 L161.4,415.4 Z" fill="none" stroke="#000" stroke-width="0.45"/>
<path d="M170.8,418.3 L171.9,420.2 L169.7,420.2 Z" fill="none" stroke="#000" stroke-width="0.45"/>
<path d="M177.0,428.9 L178.1,430.8 L175.9,430.8 Z" fill="none" stroke="#000" stroke-width="0.45"/>
<path d="M183.0,438.9 L184.1,440.8 L181.9,440.8 Z" fill="none" stroke="#000" stroke-width="0.45"/>
<path d="M188.3,446.4 L189.4,448.3 L187.2,448.3 Z" fill="none" stroke="#000" stroke-width="0.45"/>
<path d="M190.3,453.8 L191.4,455.7 L189.2,455.7 Z" fill="none" stroke="#000" stroke-width="0.45"/>
<rect x="158.5" y="370.2" width="33" height="45.8" fill="none" stroke="#000" stroke-width="1"/>
<line x1="158.5" y1="369.6" x2="152" y2="358" stroke="#000" stroke-width="1"/>
<path d="M150,354.5 L154.6,358.8 L150.6,360.6 Z" fill="#000"/>
<rect x="89.2" y="286.1" width="67.8" height="51" fill="#fff" stroke="#000" stroke-width="0.8" stroke-dasharray="2,1.3"/>
<path d="M89.8,297.1 L100.1,297.8 L108.5,299.9 L116,302.5 L124.5,306.1 L130.5,310.5 L136.1,315.6 L141.5,320.5 L146.3,325.1 L151,332.6" fill="none" stroke="#000" stroke-width="0.8" stroke-dasharray="1,1.3" stroke-linejoin="round"/>
<path d="M89.8,299.9 L95.3,300.2 L101.3,302.3 L106.1,304.1 L112.2,307.1 L117,308.9 L122,312 L127.2,315.6 L131.5,318.5 L136,321.5 L140.5,324.3 L144.2,327.2 L149,333.3" fill="none" stroke="#000" stroke-width="0.8" stroke-dasharray="1,1.3" stroke-linejoin="round"/>
<path d="M147.6,335 L152.5,331.5 L150.5,335.3" fill="none" stroke="#000" stroke-width="0.8"/>
<line x1="121.3" y1="304.7" x2="127" y2="298.4" stroke="#000" stroke-width="1.3"/>
<path d="M129.8,295.4 L128.8,301 L124.8,297.3 Z" fill="#000"/>
<line x1="123.5" y1="313.7" x2="117" y2="321" stroke="#000" stroke-width="1.3"/>
<path d="M114.3,324.2 L115.2,318.5 L119.3,322.2 Z" fill="#000"/>
<text x="133" y="298.3" font-size="9" text-anchor="start" >CD</text>
<text x="102" y="333.2" font-size="9" text-anchor="start" >DA</text>
<text x="88" y="290" font-size="8" text-anchor="end">5x10<tspan font-size="5.5" dy="-3.5">-4</tspan></text>
<text x="88" y="320.5" font-size="8" text-anchor="end">1x10<tspan font-size="5.5" dy="-3.5">-4</tspan></text>
<text x="88" y="341.5" font-size="8" text-anchor="end">3x10<tspan font-size="5.5" dy="-3.5">-5</tspan></text>
<text x="95.5" y="345.7" font-size="7.5" text-anchor="middle" >-0.8</text>
<text x="119.5" y="345.7" font-size="7.5" text-anchor="middle" >-0.5</text>
<text x="143.2" y="345.7" font-size="7.5" text-anchor="middle" >-0.3</text>
<path d="M210.5,380.4 L214.6,351.1 L216.4,345.2 L218.6,339.0 L220.9,330.0 L223.0,326.0 L226.1,317.5 L230.4,316.5 L233.1,311.7 L235.7,310.5 L239.9,305.2 L245.2,303.0 L248.5,300.5 L252.6,297.8 L258.9,294.6 L265.8,289.6 L272.7,288.2 L279.6,284.6 L285.5,283.7 L292.3,282.3 L298.2,280.7 L304.1,278.8 L312.0,277.2" fill="none" stroke="#000" stroke-width="0.9" stroke-dasharray="1.5,1"/>
<circle cx="214.6" cy="351.1" r="1.8" fill="#000"/>
<circle cx="216.4" cy="345.2" r="1.8" fill="#000"/>
<path d="M218.0,342.4 L219.7,345.2 L216.3,345.2 Z" fill="none" stroke="#000" stroke-width="0.6"/>
<circle cx="218.6" cy="339.0" r="1.8" fill="#000"/>
<circle cx="220.9" cy="330.0" r="1.8" fill="#000"/>
<path d="M222.5,327.2 L224.2,330.0 L220.8,330.0 Z" fill="none" stroke="#000" stroke-width="0.6"/>
<circle cx="223.0" cy="326.0" r="1.8" fill="#000"/>
<circle cx="226.1" cy="317.5" r="1.8" fill="#000"/>
<path d="M227.7,314.7 L229.4,317.5 L226.0,317.5 Z" fill="none" stroke="#000" stroke-width="0.6"/>
<circle cx="230.4" cy="316.5" r="1.8" fill="#000"/>
<circle cx="233.1" cy="311.7" r="1.8" fill="#000"/>
<path d="M234.7,308.9 L236.4,311.7 L233.0,311.7 Z" fill="none" stroke="#000" stroke-width="0.6"/>
<circle cx="235.7" cy="310.5" r="1.8" fill="#000"/>
<circle cx="239.9" cy="305.2" r="1.8" fill="#000"/>
<path d="M241.5,302.4 L243.2,305.2 L239.8,305.2 Z" fill="none" stroke="#000" stroke-width="0.6"/>
<circle cx="245.2" cy="303.0" r="1.8" fill="#000"/>
<circle cx="248.5" cy="300.5" r="1.8" fill="#000"/>
<path d="M250.1,297.7 L251.8,300.5 L248.4,300.5 Z" fill="none" stroke="#000" stroke-width="0.6"/>
<circle cx="252.6" cy="297.8" r="1.8" fill="#000"/>
<circle cx="258.9" cy="294.6" r="1.8" fill="#000"/>
<path d="M260.5,291.8 L262.2,294.6 L258.8,294.6 Z" fill="none" stroke="#000" stroke-width="0.6"/>
<circle cx="265.8" cy="289.6" r="1.8" fill="#000"/>
<circle cx="272.7" cy="288.2" r="1.8" fill="#000"/>
<path d="M274.3,285.4 L276.0,288.2 L272.6,288.2 Z" fill="none" stroke="#000" stroke-width="0.6"/>
<circle cx="279.6" cy="284.6" r="1.8" fill="#000"/>
<circle cx="285.5" cy="283.7" r="1.8" fill="#000"/>
<path d="M287.1,280.9 L288.8,283.7 L285.4,283.7 Z" fill="none" stroke="#000" stroke-width="0.6"/>
<circle cx="292.3" cy="282.3" r="1.8" fill="#000"/>
<circle cx="298.2" cy="280.7" r="1.8" fill="#000"/>
<path d="M299.8,277.9 L301.5,280.7 L298.1,280.7 Z" fill="none" stroke="#000" stroke-width="0.6"/>
<circle cx="304.1" cy="278.8" r="1.8" fill="#000"/>
<path d="M210.5,378.4 L212.5,381.9 L208.5,381.9 Z" fill="#fff" stroke="#000" stroke-width="0.8"/>
<path d="M312.0,275.2 L314.0,278.7 L310.0,278.7 Z" fill="#fff" stroke="#000" stroke-width="0.8"/>
<line x1="215.3" y1="289.3" x2="261" y2="289.3" stroke="#000" stroke-width="1"/>
<path d="M215.5,289.3 V338.5 H261.5 V289.3" fill="none" stroke="#000" stroke-width="0.8" stroke-dasharray="1,1"/>
<line x1="262.2" y1="339.6" x2="267.5" y2="350" stroke="#000" stroke-width="1"/>
<path d="M269.6,354.3 L264.6,349.6 L269.2,347.5 Z" fill="#000"/>
<rect x="246.8" y="369.4" width="71.1" height="56" fill="#fff" stroke="#000" stroke-width="0.8" stroke-dasharray="1.5,1.2"/>
<path d="M246.8,423.8 C249,419.5 252,414 257,410.1 C261,406.5 263,405 266.6,402.4 C270,400 273,398 276.2,396 C280,393.5 284,391 289,388.6 C294,386 297,384.2 301.8,382.2 C306,380.5 311,378.5 316.3,376.8" fill="none" stroke="#000" stroke-width="0.9"/>
<path d="M247.5,421 C248.5,418 250,412 253.8,407.8 C257,404 260,402 263.4,399.8 C267,397.2 270,394.8 273,392.8 C278,389.6 283,387 289,384.5 C295,382 300,380.5 305,379 C309,377.5 313,375.8 316.3,374.2" fill="none" stroke="#000" stroke-width="0.8" stroke-dasharray="1,1.2"/>
<path d="M249,416 L251.5,413.5 M249.5,412.5 L252,412.5" fill="none" stroke="#000" stroke-width="0.6"/>
<line x1="268" y1="386.5" x2="283" y2="399.7" stroke="#000" stroke-width="1.3"/>
<path d="M265,383.8 L270.8,385.5 L267,389.6 Z" fill="#000"/>
<path d="M285.8,402.4 L280.2,400.5 L283.8,396.4 Z" fill="#000"/>
<text x="255.4" y="380" font-size="9" text-anchor="start" >BC</text>
<text x="290.6" y="412.6" font-size="9" text-anchor="start" >AB</text>
<text x="245" y="373" font-size="8" text-anchor="end" >0.1</text>
<text x="245.8" y="409.5" font-size="8" text-anchor="end" >0.01</text>
<text x="270.6" y="435" font-size="8" text-anchor="middle" >1.0</text>
<text x="303.4" y="435" font-size="8" text-anchor="middle" >1.5</text>
</svg>
</body></html>
